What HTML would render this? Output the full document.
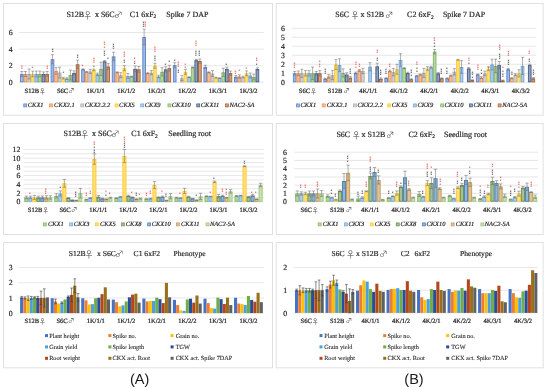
<!DOCTYPE html>
<html lang="en"><head><meta charset="utf-8"><title>Figure: CKX expression and phenotype, crosses C1 (A) and C2 (B)</title>
<style>html,body{margin:0;padding:0;background:#fff}body{width:550px;height:389px;overflow:hidden}svg{display:block}svg text{font-family:"Liberation Serif", "DejaVu Serif", serif;white-space:pre;text-rendering:geometricPrecision}.sans{font-family:"Liberation Sans", "DejaVu Sans", sans-serif}svg text .g{font-family:"Noto Serif CJK SC","DejaVu Sans",sans-serif;stroke:#444;stroke-width:.1px;fill:#444}.b{stroke:#262626;stroke-width:.22px}.t{stroke:#262626;stroke-width:.18px}.l{stroke:#262626;stroke-width:.08px}</style></head><body>
<svg width="550" height="389" viewBox="0 0 550 389">
<rect width="550" height="389" fill="#FFFFFF"/>
<g>
<rect x="3.5" y="3.5" width="269" height="111.7" fill="#FFFFFF" stroke="#E0E0E0" stroke-width="1"/>
<line x1="19.2" y1="82.3" x2="263.7" y2="82.3" stroke="#DCDCDC" stroke-width="0.7"/>
<line x1="19.2" y1="65.7" x2="263.7" y2="65.7" stroke="#DCDCDC" stroke-width="0.7"/>
<line x1="19.2" y1="49.1" x2="263.7" y2="49.1" stroke="#DCDCDC" stroke-width="0.7"/>
<line x1="19.2" y1="32.5" x2="263.7" y2="32.5" stroke="#DCDCDC" stroke-width="0.7"/>
<text class="t" x="12.7" y="84.95" text-anchor="end" font-size="7.8" fill="#262626">0</text>
<text class="t" x="12.7" y="68.35" text-anchor="end" font-size="7.8" fill="#262626">2</text>
<text class="t" x="12.7" y="51.75" text-anchor="end" font-size="7.8" fill="#262626">4</text>
<text class="t" x="12.7" y="35.15" text-anchor="end" font-size="7.8" fill="#262626">6</text>
<rect x="20.55" y="74.45" width="2.7" height="7.4" fill="#A2B8E2" stroke="#5A83CB" stroke-width="0.9"/>
<rect x="24.14" y="74.45" width="2.7" height="7.4" fill="#F6BE98" stroke="#EF8D4A" stroke-width="0.9"/>
<rect x="27.74" y="74.45" width="2.7" height="7.4" fill="#D2D2D2" stroke="#B0B0B0" stroke-width="0.9"/>
<rect x="31.34" y="74.45" width="2.7" height="7.4" fill="#FFE080" stroke="#FFC81F" stroke-width="0.9"/>
<rect x="34.93" y="74.45" width="2.7" height="7.4" fill="#ADCDEA" stroke="#6FA7DA" stroke-width="0.9"/>
<rect x="38.53" y="74.45" width="2.7" height="7.4" fill="#B8D6A3" stroke="#81B75D" stroke-width="0.9"/>
<rect x="42.12" y="74.45" width="2.7" height="7.4" fill="#92A2BC" stroke="#405A88" stroke-width="0.9"/>
<rect x="45.72" y="74.45" width="2.7" height="7.4" fill="#CEA486" stroke="#AA5E2B" stroke-width="0.9"/>
<rect x="51.11" y="59.68" width="2.7" height="22.17" fill="#A2B8E2" stroke="#5A83CB" stroke-width="0.9"/>
<rect x="54.71" y="71.38" width="2.7" height="10.47" fill="#F6BE98" stroke="#EF8D4A" stroke-width="0.9"/>
<rect x="58.3" y="73.04" width="2.7" height="8.81" fill="#D2D2D2" stroke="#B0B0B0" stroke-width="0.9"/>
<rect x="61.9" y="78.6" width="2.7" height="3.25" fill="#FFE080" stroke="#FFC81F" stroke-width="0.9"/>
<rect x="65.49" y="79.02" width="2.7" height="2.84" fill="#ADCDEA" stroke="#6FA7DA" stroke-width="0.9"/>
<rect x="69.09" y="75.53" width="2.7" height="6.32" fill="#B8D6A3" stroke="#81B75D" stroke-width="0.9"/>
<rect x="72.68" y="73.37" width="2.7" height="8.48" fill="#92A2BC" stroke="#405A88" stroke-width="0.9"/>
<rect x="76.28" y="64.74" width="2.7" height="17.11" fill="#CEA486" stroke="#AA5E2B" stroke-width="0.9"/>
<rect x="81.67" y="69.8" width="2.7" height="12.05" fill="#A2B8E2" stroke="#5A83CB" stroke-width="0.9"/>
<rect x="85.27" y="72.29" width="2.7" height="9.56" fill="#F6BE98" stroke="#EF8D4A" stroke-width="0.9"/>
<rect x="88.87" y="71.96" width="2.7" height="9.89" fill="#D2D2D2" stroke="#B0B0B0" stroke-width="0.9"/>
<rect x="92.46" y="70.3" width="2.7" height="11.55" fill="#FFE080" stroke="#FFC81F" stroke-width="0.9"/>
<rect x="96.06" y="74.78" width="2.7" height="7.07" fill="#ADCDEA" stroke="#6FA7DA" stroke-width="0.9"/>
<rect x="99.65" y="69.3" width="2.7" height="12.55" fill="#B8D6A3" stroke="#81B75D" stroke-width="0.9"/>
<rect x="103.25" y="61.83" width="2.7" height="20.02" fill="#92A2BC" stroke="#405A88" stroke-width="0.9"/>
<rect x="106.84" y="66.98" width="2.7" height="14.87" fill="#CEA486" stroke="#AA5E2B" stroke-width="0.9"/>
<rect x="112.24" y="56.85" width="2.7" height="25" fill="#A2B8E2" stroke="#5A83CB" stroke-width="0.9"/>
<rect x="115.83" y="72.79" width="2.7" height="9.06" fill="#F6BE98" stroke="#EF8D4A" stroke-width="0.9"/>
<rect x="119.43" y="75.61" width="2.7" height="6.24" fill="#D2D2D2" stroke="#B0B0B0" stroke-width="0.9"/>
<rect x="123.02" y="68.64" width="2.7" height="13.21" fill="#FFE080" stroke="#FFC81F" stroke-width="0.9"/>
<rect x="126.62" y="76.44" width="2.7" height="5.41" fill="#ADCDEA" stroke="#6FA7DA" stroke-width="0.9"/>
<rect x="130.21" y="76.94" width="2.7" height="4.91" fill="#B8D6A3" stroke="#81B75D" stroke-width="0.9"/>
<rect x="133.81" y="69.3" width="2.7" height="12.55" fill="#92A2BC" stroke="#405A88" stroke-width="0.9"/>
<rect x="137.41" y="69.8" width="2.7" height="12.05" fill="#CEA486" stroke="#AA5E2B" stroke-width="0.9"/>
<rect x="142.8" y="37.43" width="2.7" height="44.42" fill="#A2B8E2" stroke="#5A83CB" stroke-width="0.9"/>
<rect x="146.39" y="73.62" width="2.7" height="8.23" fill="#F6BE98" stroke="#EF8D4A" stroke-width="0.9"/>
<rect x="149.99" y="73.12" width="2.7" height="8.73" fill="#D2D2D2" stroke="#B0B0B0" stroke-width="0.9"/>
<rect x="153.59" y="66.15" width="2.7" height="15.7" fill="#FFE080" stroke="#FFC81F" stroke-width="0.9"/>
<rect x="157.18" y="76.94" width="2.7" height="4.91" fill="#ADCDEA" stroke="#6FA7DA" stroke-width="0.9"/>
<rect x="160.78" y="72.29" width="2.7" height="9.56" fill="#B8D6A3" stroke="#81B75D" stroke-width="0.9"/>
<rect x="164.37" y="69.8" width="2.7" height="12.05" fill="#92A2BC" stroke="#405A88" stroke-width="0.9"/>
<rect x="167.97" y="68.64" width="2.7" height="13.21" fill="#CEA486" stroke="#AA5E2B" stroke-width="0.9"/>
<rect x="173.36" y="65.65" width="2.7" height="16.2" fill="#A2B8E2" stroke="#5A83CB" stroke-width="0.9"/>
<rect x="180.55" y="78.6" width="2.7" height="3.25" fill="#D2D2D2" stroke="#B0B0B0" stroke-width="0.9"/>
<rect x="184.15" y="72.29" width="2.7" height="9.56" fill="#FFE080" stroke="#FFC81F" stroke-width="0.9"/>
<rect x="187.74" y="77.6" width="2.7" height="4.25" fill="#ADCDEA" stroke="#6FA7DA" stroke-width="0.9"/>
<rect x="191.34" y="67.81" width="2.7" height="14.04" fill="#B8D6A3" stroke="#81B75D" stroke-width="0.9"/>
<rect x="194.93" y="60.67" width="2.7" height="21.18" fill="#92A2BC" stroke="#405A88" stroke-width="0.9"/>
<rect x="198.53" y="61.5" width="2.7" height="20.35" fill="#CEA486" stroke="#AA5E2B" stroke-width="0.9"/>
<rect x="203.92" y="67.31" width="2.7" height="14.54" fill="#A2B8E2" stroke="#5A83CB" stroke-width="0.9"/>
<rect x="207.52" y="72.79" width="2.7" height="9.06" fill="#F6BE98" stroke="#EF8D4A" stroke-width="0.9"/>
<rect x="211.12" y="73.95" width="2.7" height="7.9" fill="#D2D2D2" stroke="#B0B0B0" stroke-width="0.9"/>
<rect x="214.71" y="78.1" width="2.7" height="3.75" fill="#FFE080" stroke="#FFC81F" stroke-width="0.9"/>
<rect x="218.31" y="78.6" width="2.7" height="3.25" fill="#ADCDEA" stroke="#6FA7DA" stroke-width="0.9"/>
<rect x="221.9" y="72.79" width="2.7" height="9.06" fill="#B8D6A3" stroke="#81B75D" stroke-width="0.9"/>
<rect x="225.5" y="69.3" width="2.7" height="12.55" fill="#92A2BC" stroke="#405A88" stroke-width="0.9"/>
<rect x="229.09" y="73.62" width="2.7" height="8.23" fill="#CEA486" stroke="#AA5E2B" stroke-width="0.9"/>
<rect x="234.49" y="77.27" width="2.7" height="4.58" fill="#A2B8E2" stroke="#5A83CB" stroke-width="0.9"/>
<rect x="238.08" y="76.94" width="2.7" height="4.91" fill="#F6BE98" stroke="#EF8D4A" stroke-width="0.9"/>
<rect x="241.68" y="77.44" width="2.7" height="4.41" fill="#D2D2D2" stroke="#B0B0B0" stroke-width="0.9"/>
<rect x="245.27" y="73.79" width="2.7" height="8.06" fill="#FFE080" stroke="#FFC81F" stroke-width="0.9"/>
<rect x="248.87" y="75.94" width="2.7" height="5.91" fill="#ADCDEA" stroke="#6FA7DA" stroke-width="0.9"/>
<rect x="252.46" y="77.44" width="2.7" height="4.41" fill="#B8D6A3" stroke="#81B75D" stroke-width="0.9"/>
<rect x="256.06" y="69.47" width="2.7" height="12.38" fill="#92A2BC" stroke="#405A88" stroke-width="0.9"/>
<path d="M21.9 71.51V76.49M20.39 71.51H23.41M20.39 76.49H23.41M25.49 71.51V76.49M23.98 71.51H27M23.98 76.49H27M29.09 69.02V78.98M27.58 69.02H30.6M27.58 78.98H30.6M32.68 71.09V76.91M31.17 71.09H34.19M31.17 76.91H34.19M36.28 71.09V76.91M34.77 71.09H37.79M34.77 76.91H37.79M39.87 71.09V76.91M38.36 71.09H41.38M38.36 76.91H41.38M43.47 71.92V76.08M41.96 71.92H44.98M41.96 76.08H44.98M47.07 71.51V76.49M45.56 71.51H48.58M45.56 76.49H48.58M52.46 54.66V63.79M50.95 54.66H53.97M50.95 63.79H53.97M56.05 67.61V74.25M54.54 67.61H57.56M54.54 74.25H57.56M59.65 67.19V77.98M58.14 67.19H61.16M58.14 77.98H61.16M63.25 77.32V78.98M61.74 77.32H64.76M61.74 78.98H64.76M66.84 77.73V79.39M65.33 77.73H68.35M65.33 79.39H68.35M70.44 70.1V80.06M68.93 70.1H71.95M68.93 80.06H71.95M74.03 70.85V75M72.52 70.85H75.54M72.52 75H75.54M77.63 60.14V68.44M76.12 60.14H79.14M76.12 68.44H79.14M83.02 68.94V69.77M81.51 68.94H84.53M81.51 69.77H84.53M86.62 71.43V72.26M85.11 71.43H88.13M85.11 72.26H88.13M90.21 69.44V73.58M88.7 69.44H91.72M88.7 73.58H91.72M93.81 69.02V70.68M92.3 69.02H95.32M92.3 70.68H95.32M97.4 73.09V75.58M95.89 73.09H98.91M95.89 75.58H98.91M101 62.21V75.49M99.49 62.21H102.51M99.49 75.49H102.51M104.6 60.55V62.21M103.09 60.55H106.11M103.09 62.21H106.11M108.19 63.62V69.44M106.68 63.62H109.7M106.68 69.44H109.7M113.58 52.25V60.55M112.07 52.25H115.09M112.07 60.55H115.09M117.18 71.92V72.75M115.67 71.92H118.69M115.67 72.75H118.69M120.78 72.67V77.65M119.27 72.67H122.29M119.27 77.65H122.29M124.37 65.7V70.68M122.86 65.7H125.88M122.86 70.68H125.88M127.97 73.5V78.48M126.46 73.5H129.48M126.46 78.48H129.48M131.56 76.08V76.91M130.05 76.08H133.07M130.05 76.91H133.07M135.16 65.95V71.76M133.65 65.95H136.67M133.65 71.76H136.67M138.75 66.45V72.26M137.24 66.45H140.26M137.24 72.26H140.26M144.15 29.18V44.78M142.64 29.18H145.66M142.64 44.78H145.66M147.74 72.75V73.58M146.23 72.75H149.25M146.23 73.58H149.25M151.34 70.6V74.75M149.83 70.6H152.85M149.83 74.75H152.85M154.93 63.21V68.19M153.42 63.21H156.44M153.42 68.19H156.44M158.53 75.24V77.73M157.02 75.24H160.04M157.02 77.73H160.04M162.12 67.69V75.99M160.61 67.69H163.63M160.61 75.99H163.63M165.72 66.86V71.84M164.21 66.86H167.23M164.21 71.84H167.23M169.32 65.28V71.09M167.81 65.28H170.83M167.81 71.09H170.83M174.71 62.71V67.69M173.2 62.71H176.22M173.2 67.69H176.22M181.9 75.66V80.64M180.39 75.66H183.41M180.39 80.64H183.41M185.5 69.35V74.33M183.99 69.35H187.01M183.99 74.33H187.01M189.09 76.74V77.57M187.58 76.74H190.6M187.58 77.57H190.6M192.69 66.94V67.77M191.18 66.94H194.2M191.18 67.77H194.2M196.28 59.39V61.05M194.77 59.39H197.79M194.77 61.05H197.79M199.88 58.98V63.13M198.37 58.98H201.39M198.37 63.13H201.39M205.27 65.2V68.52M203.76 65.2H206.78M203.76 68.52H206.78M208.87 71.92V72.75M207.36 71.92H210.38M207.36 72.75H210.38M212.46 70.6V76.41M210.95 70.6H213.97M210.95 76.41H213.97M216.06 77.24V78.07M214.55 77.24H217.57M214.55 78.07H217.57M219.65 77.73V78.56M218.14 77.73H221.16M218.14 78.56H221.16M223.25 68.19V76.49M221.74 68.19H224.76M221.74 76.49H224.76M226.85 67.19V70.51M225.34 67.19H228.36M225.34 70.51H228.36M230.44 71.09V75.24M228.93 71.09H231.95M228.93 75.24H231.95M235.83 75.58V78.07M234.32 75.58H237.34M234.32 78.07H237.34M239.43 74.83V78.15M237.92 74.83H240.94M237.92 78.15H240.94M243.03 76.16V77.82M241.52 76.16H244.54M241.52 77.82H244.54M246.62 70.85V75.83M245.11 70.85H248.13M245.11 75.83H248.13M250.22 73V77.98M248.71 73H251.73M248.71 77.98H251.73M253.81 74.08V79.89M252.3 74.08H255.32M252.3 79.89H255.32M257.41 67.77V70.27M255.9 67.77H258.92M255.9 70.27H258.92" fill="none" stroke="#6E6E6E" stroke-width="0.55"/>
<text x="22" y="68.24" text-anchor="middle" font-size="3.8" font-weight="bold" fill="#E8261C">*</text>
<text x="22" y="70.34" text-anchor="middle" font-size="3.8" font-weight="bold" fill="#E8261C">*</text>
<text x="32.5" y="69.09" text-anchor="middle" font-size="3.8" font-weight="bold" fill="#E8261C">*</text>
<text x="47.2" y="68.24" text-anchor="middle" font-size="3.8" font-weight="bold" fill="#E8261C">*</text>
<text x="47.2" y="70.34" text-anchor="middle" font-size="3.8" font-weight="bold" fill="#E8261C">*</text>
<text x="52.6" y="51.19" text-anchor="middle" font-size="3.8" font-weight="bold" fill="#1A1A1A">*</text>
<text x="52.6" y="53.29" text-anchor="middle" font-size="3.8" font-weight="bold" fill="#1A1A1A">*</text>
<text x="63.4" y="73.59" text-anchor="middle" font-size="3.8" font-weight="bold" fill="#1A1A1A">*</text>
<text x="77.6" y="56.59" text-anchor="middle" font-size="3.8" font-weight="bold" fill="#1A1A1A">*</text>
<text x="77.6" y="58.69" text-anchor="middle" font-size="3.8" font-weight="bold" fill="#1A1A1A">*</text>
<text x="82.5" y="67.39" text-anchor="middle" font-size="3.8" font-weight="bold" fill="#E8261C">*</text>
<text x="93.9" y="60.19" text-anchor="middle" font-size="3.8" font-weight="bold" fill="#E8261C">*</text>
<text x="93.9" y="62.29" text-anchor="middle" font-size="3.8" font-weight="bold" fill="#E8261C">*</text>
<text x="93.9" y="64.39" text-anchor="middle" font-size="3.8" font-weight="bold" fill="#E8261C">*</text>
<text x="93.9" y="67.79" text-anchor="middle" font-size="3.8" font-weight="bold" fill="#1A1A1A">*</text>
<text x="104.4" y="44.39" text-anchor="middle" font-size="3.8" font-weight="bold" fill="#E8261C">*</text>
<text x="104.4" y="46.49" text-anchor="middle" font-size="3.8" font-weight="bold" fill="#E8261C">*</text>
<text x="104.4" y="48.59" text-anchor="middle" font-size="3.8" font-weight="bold" fill="#E8261C">*</text>
<text x="104.4" y="53.29" text-anchor="middle" font-size="3.8" font-weight="bold" fill="#1A1A1A">*</text>
<text x="104.4" y="55.39" text-anchor="middle" font-size="3.8" font-weight="bold" fill="#1A1A1A">*</text>
<text x="104.4" y="57.49" text-anchor="middle" font-size="3.8" font-weight="bold" fill="#1A1A1A">*</text>
<text x="107.9" y="60.19" text-anchor="middle" font-size="3.8" font-weight="bold" fill="#1A1A1A">*</text>
<text x="113.4" y="45.59" text-anchor="middle" font-size="3.8" font-weight="bold" fill="#1A1A1A">*</text>
<text x="113.4" y="47.69" text-anchor="middle" font-size="3.8" font-weight="bold" fill="#1A1A1A">*</text>
<text x="113.4" y="49.79" text-anchor="middle" font-size="3.8" font-weight="bold" fill="#1A1A1A">*</text>
<text x="124.3" y="53.79" text-anchor="middle" font-size="3.8" font-weight="bold" fill="#E8261C">*</text>
<text x="124.3" y="55.89" text-anchor="middle" font-size="3.8" font-weight="bold" fill="#E8261C">*</text>
<text x="124.3" y="57.99" text-anchor="middle" font-size="3.8" font-weight="bold" fill="#E8261C">*</text>
<text x="124.3" y="61.74" text-anchor="middle" font-size="3.8" font-weight="bold" fill="#1A1A1A">*</text>
<text x="124.3" y="63.84" text-anchor="middle" font-size="3.8" font-weight="bold" fill="#1A1A1A">*</text>
<text x="134.8" y="60.44" text-anchor="middle" font-size="3.8" font-weight="bold" fill="#E8261C">*</text>
<text x="134.8" y="62.54" text-anchor="middle" font-size="3.8" font-weight="bold" fill="#E8261C">*</text>
<text x="134.8" y="65.19" text-anchor="middle" font-size="3.8" font-weight="bold" fill="#1A1A1A">*</text>
<text x="143.4" y="24.09" text-anchor="middle" font-size="3.8" font-weight="bold" fill="#1A1A1A">*</text>
<text x="143.4" y="26.19" text-anchor="middle" font-size="3.8" font-weight="bold" fill="#1A1A1A">*</text>
<text x="143.4" y="28.29" text-anchor="middle" font-size="3.8" font-weight="bold" fill="#1A1A1A">*</text>
<text x="145.3" y="24.09" text-anchor="middle" font-size="3.8" font-weight="bold" fill="#E8261C">*</text>
<text x="145.3" y="26.19" text-anchor="middle" font-size="3.8" font-weight="bold" fill="#E8261C">*</text>
<text x="145.3" y="28.29" text-anchor="middle" font-size="3.8" font-weight="bold" fill="#E8261C">*</text>
<text x="155" y="48.59" text-anchor="middle" font-size="3.8" font-weight="bold" fill="#E8261C">*</text>
<text x="155" y="50.69" text-anchor="middle" font-size="3.8" font-weight="bold" fill="#E8261C">*</text>
<text x="155" y="52.79" text-anchor="middle" font-size="3.8" font-weight="bold" fill="#E8261C">*</text>
<text x="155" y="57.59" text-anchor="middle" font-size="3.8" font-weight="bold" fill="#1A1A1A">*</text>
<text x="155" y="59.69" text-anchor="middle" font-size="3.8" font-weight="bold" fill="#1A1A1A">*</text>
<text x="155" y="61.79" text-anchor="middle" font-size="3.8" font-weight="bold" fill="#1A1A1A">*</text>
<text x="165.4" y="65.59" text-anchor="middle" font-size="3.8" font-weight="bold" fill="#1A1A1A">*</text>
<text x="169.2" y="63.19" text-anchor="middle" font-size="3.8" font-weight="bold" fill="#1A1A1A">*</text>
<text x="174.6" y="61.79" text-anchor="middle" font-size="3.8" font-weight="bold" fill="#1A1A1A">*</text>
<text x="178.1" y="63.79" text-anchor="middle" font-size="3.8" font-weight="bold" fill="#E8261C">*</text>
<text x="178.1" y="65.89" text-anchor="middle" font-size="3.8" font-weight="bold" fill="#E8261C">*</text>
<text x="178.1" y="67.99" text-anchor="middle" font-size="3.8" font-weight="bold" fill="#E8261C">*</text>
<text x="178.1" y="72.34" text-anchor="middle" font-size="3.8" font-weight="bold" fill="#1A1A1A">*</text>
<text x="178.1" y="74.44" text-anchor="middle" font-size="3.8" font-weight="bold" fill="#1A1A1A">*</text>
<text x="185.1" y="66.49" text-anchor="middle" font-size="3.8" font-weight="bold" fill="#E8261C">*</text>
<text x="185.1" y="68.59" text-anchor="middle" font-size="3.8" font-weight="bold" fill="#E8261C">*</text>
<text x="196" y="43.09" text-anchor="middle" font-size="3.8" font-weight="bold" fill="#E8261C">*</text>
<text x="196" y="45.19" text-anchor="middle" font-size="3.8" font-weight="bold" fill="#E8261C">*</text>
<text x="196" y="47.29" text-anchor="middle" font-size="3.8" font-weight="bold" fill="#E8261C">*</text>
<text x="196" y="52.59" text-anchor="middle" font-size="3.8" font-weight="bold" fill="#1A1A1A">*</text>
<text x="196" y="54.69" text-anchor="middle" font-size="3.8" font-weight="bold" fill="#1A1A1A">*</text>
<text x="196" y="56.79" text-anchor="middle" font-size="3.8" font-weight="bold" fill="#1A1A1A">*</text>
<text x="199.3" y="53.09" text-anchor="middle" font-size="3.8" font-weight="bold" fill="#1A1A1A">*</text>
<text x="199.3" y="55.19" text-anchor="middle" font-size="3.8" font-weight="bold" fill="#1A1A1A">*</text>
<text x="199.3" y="57.29" text-anchor="middle" font-size="3.8" font-weight="bold" fill="#1A1A1A">*</text>
<text x="226.2" y="66.09" text-anchor="middle" font-size="3.8" font-weight="bold" fill="#1A1A1A">*</text>
<text x="235.4" y="73.04" text-anchor="middle" font-size="3.8" font-weight="bold" fill="#E8261C">*</text>
<text x="235.4" y="75.14" text-anchor="middle" font-size="3.8" font-weight="bold" fill="#E8261C">*</text>
<text x="239.3" y="72.39" text-anchor="middle" font-size="3.8" font-weight="bold" fill="#E8261C">*</text>
<text x="246.3" y="69.89" text-anchor="middle" font-size="3.8" font-weight="bold" fill="#E8261C">*</text>
<text x="256.8" y="59.74" text-anchor="middle" font-size="3.8" font-weight="bold" fill="#E8261C">*</text>
<text x="256.8" y="61.84" text-anchor="middle" font-size="3.8" font-weight="bold" fill="#E8261C">*</text>
<text x="256.8" y="65.59" text-anchor="middle" font-size="3.8" font-weight="bold" fill="#1A1A1A">*</text>
<text class="b" x="24.6" y="92.7" text-anchor="start" font-size="6.5" fill="#262626">S12B<tspan class="g" font-size="6.8" dx="-0.1" baseline-shift="-0.8">♀</tspan></text>
<text class="b" x="56.9" y="92.7" text-anchor="start" font-size="6.5" fill="#262626">S6C<tspan class="g" font-size="6.4" dx="0.2" baseline-shift="0.5">♂</tspan></text>
<text class="b" x="95.61" y="92.7" text-anchor="middle" font-size="6.5" fill="#262626">1K/1/1</text>
<text class="b" x="126.17" y="92.7" text-anchor="middle" font-size="6.5" fill="#262626">1K/1/2</text>
<text class="b" x="156.73" y="92.7" text-anchor="middle" font-size="6.5" fill="#262626">1K/2/1</text>
<text class="b" x="187.29" y="92.7" text-anchor="middle" font-size="6.5" fill="#262626">1K/2/2</text>
<text class="b" x="217.86" y="92.7" text-anchor="middle" font-size="6.5" fill="#262626">1K/3/1</text>
<text class="b" x="248.42" y="92.7" text-anchor="middle" font-size="6.5" fill="#262626">1K/3/2</text>
<text class="t" x="66.4" y="16.7" font-size="8" fill="#1F1F1F">S12B<tspan class="g" font-size="9.4" dx="-1.3" baseline-shift="-1.6">♀</tspan></text>
<text class="t" x="94.9" y="16.7" font-size="8" fill="#1F1F1F">x S6C<tspan class="g" font-size="8.7" dx="-0.7" baseline-shift="-0.8">♂</tspan></text>
<text class="t" x="129.8" y="16.7" font-size="8" fill="#1F1F1F">C1 6xF<tspan dy="1.6" font-size="5.4">2</tspan></text>
<text class="t" x="166.2" y="16.7" font-size="8" fill="#1F1F1F">Spike 7 DAP</text>
<rect x="23.75" y="103.9" width="3" height="3" fill="#A2B8E2" stroke="#5A83CB" stroke-width="0.7"/>
<text class="t" x="27.8" y="107.45" font-size="6.45" font-style="italic" fill="#262626">CKX1</text>
<rect x="49.55" y="103.9" width="3" height="3" fill="#F6BE98" stroke="#EF8D4A" stroke-width="0.7"/>
<text class="t" x="54.1" y="107.45" font-size="6.45" font-style="italic" fill="#262626">CKX2.1</text>
<rect x="80.75" y="103.9" width="3" height="3" fill="#D2D2D2" stroke="#B0B0B0" stroke-width="0.7"/>
<text class="t" x="84.8" y="107.45" font-size="6.45" font-style="italic" fill="#262626">CKX2.2.2</text>
<rect x="115.05" y="103.9" width="3" height="3" fill="#FFE080" stroke="#FFC81F" stroke-width="0.7"/>
<text class="t" x="119.1" y="107.45" font-size="6.45" font-style="italic" fill="#262626">CKX5</text>
<rect x="140.75" y="103.9" width="3" height="3" fill="#ADCDEA" stroke="#6FA7DA" stroke-width="0.7"/>
<text class="t" x="144.8" y="107.45" font-size="6.45" font-style="italic" fill="#262626">CKX9</text>
<rect x="167.95" y="103.9" width="3" height="3" fill="#B8D6A3" stroke="#81B75D" stroke-width="0.7"/>
<text class="t" x="171.8" y="107.45" font-size="6.45" font-style="italic" fill="#262626">CKX10</text>
<rect x="196.75" y="103.9" width="3" height="3" fill="#92A2BC" stroke="#405A88" stroke-width="0.7"/>
<text class="t" x="200.8" y="107.45" font-size="6.45" font-style="italic" fill="#262626">CKX11</text>
<rect x="225.45" y="103.9" width="3" height="3" fill="#CEA486" stroke="#AA5E2B" stroke-width="0.7"/>
<text class="t" x="229.5" y="107.45" font-size="6.45" font-style="italic" fill="#262626">NAC2-5A</text>
</g>
<g>
<rect x="3.5" y="123.5" width="269" height="111" fill="#FFFFFF" stroke="#E0E0E0" stroke-width="1"/>
<line x1="23.6" y1="201.8" x2="263.9" y2="201.8" stroke="#DCDCDC" stroke-width="0.7"/>
<line x1="23.6" y1="197.44" x2="263.9" y2="197.44" stroke="#DCDCDC" stroke-width="0.7"/>
<line x1="23.6" y1="193.07" x2="263.9" y2="193.07" stroke="#DCDCDC" stroke-width="0.7"/>
<line x1="23.6" y1="188.71" x2="263.9" y2="188.71" stroke="#DCDCDC" stroke-width="0.7"/>
<line x1="23.6" y1="184.34" x2="263.9" y2="184.34" stroke="#DCDCDC" stroke-width="0.7"/>
<line x1="23.6" y1="179.98" x2="263.9" y2="179.98" stroke="#DCDCDC" stroke-width="0.7"/>
<line x1="23.6" y1="175.62" x2="263.9" y2="175.62" stroke="#DCDCDC" stroke-width="0.7"/>
<line x1="23.6" y1="171.25" x2="263.9" y2="171.25" stroke="#DCDCDC" stroke-width="0.7"/>
<line x1="23.6" y1="166.89" x2="263.9" y2="166.89" stroke="#DCDCDC" stroke-width="0.7"/>
<line x1="23.6" y1="162.52" x2="263.9" y2="162.52" stroke="#DCDCDC" stroke-width="0.7"/>
<line x1="23.6" y1="158.16" x2="263.9" y2="158.16" stroke="#DCDCDC" stroke-width="0.7"/>
<line x1="23.6" y1="153.8" x2="263.9" y2="153.8" stroke="#DCDCDC" stroke-width="0.7"/>
<line x1="23.6" y1="149.43" x2="263.9" y2="149.43" stroke="#DCDCDC" stroke-width="0.7"/>
<text class="t" x="20.4" y="204.45" text-anchor="end" font-size="7.8" fill="#262626">0</text>
<text class="t" x="20.4" y="195.72" text-anchor="end" font-size="7.8" fill="#262626">2</text>
<text class="t" x="20.4" y="186.99" text-anchor="end" font-size="7.8" fill="#262626">4</text>
<text class="t" x="20.4" y="178.27" text-anchor="end" font-size="7.8" fill="#262626">6</text>
<text class="t" x="20.4" y="169.54" text-anchor="end" font-size="7.8" fill="#262626">8</text>
<text class="t" x="20.4" y="160.81" text-anchor="end" font-size="7.8" fill="#262626">10</text>
<text class="t" x="20.4" y="152.08" text-anchor="end" font-size="7.8" fill="#262626">12</text>
<rect x="24.75" y="197.89" width="3.1" height="3.46" fill="#B8D6A3" stroke="#81B75D" stroke-width="0.9"/>
<rect x="28.76" y="197.89" width="3.1" height="3.46" fill="#ADCDEA" stroke="#6FA7DA" stroke-width="0.9"/>
<rect x="32.76" y="197.89" width="3.1" height="3.46" fill="#FFE080" stroke="#FFC81F" stroke-width="0.9"/>
<rect x="36.77" y="197.89" width="3.1" height="3.46" fill="#A7BF9A" stroke="#648E4D" stroke-width="0.9"/>
<rect x="40.77" y="197.89" width="3.1" height="3.46" fill="#96B5D2" stroke="#477DB1" stroke-width="0.9"/>
<rect x="44.78" y="197.89" width="3.1" height="3.46" fill="#DCC59C" stroke="#C19952" stroke-width="0.9"/>
<rect x="48.78" y="197.89" width="3.1" height="3.46" fill="#C6E0B4" stroke="#9AC87A" stroke-width="0.9"/>
<rect x="54.79" y="196.31" width="3.1" height="5.04" fill="#B8D6A3" stroke="#81B75D" stroke-width="0.9"/>
<rect x="58.79" y="193.96" width="3.1" height="7.39" fill="#ADCDEA" stroke="#6FA7DA" stroke-width="0.9"/>
<rect x="62.8" y="183.7" width="3.1" height="17.65" fill="#FFE080" stroke="#FFC81F" stroke-width="0.9"/>
<rect x="66.8" y="198.45" width="3.1" height="2.9" fill="#A7BF9A" stroke="#648E4D" stroke-width="0.9"/>
<rect x="70.81" y="200.5" width="3.1" height="0.85" fill="#96B5D2" stroke="#477DB1" stroke-width="0.9"/>
<rect x="74.81" y="200.81" width="3.1" height="0.54" fill="#DCC59C" stroke="#C19952" stroke-width="0.9"/>
<rect x="78.82" y="193.61" width="3.1" height="7.74" fill="#C6E0B4" stroke="#9AC87A" stroke-width="0.9"/>
<rect x="84.83" y="199.89" width="3.1" height="1.46" fill="#B8D6A3" stroke="#81B75D" stroke-width="0.9"/>
<rect x="88.83" y="198.45" width="3.1" height="2.9" fill="#ADCDEA" stroke="#6FA7DA" stroke-width="0.9"/>
<rect x="92.84" y="159.48" width="3.1" height="41.87" fill="#FFE080" stroke="#FFC81F" stroke-width="0.9"/>
<rect x="96.84" y="197.23" width="3.1" height="4.12" fill="#A7BF9A" stroke="#648E4D" stroke-width="0.9"/>
<rect x="100.85" y="199.02" width="3.1" height="2.33" fill="#96B5D2" stroke="#477DB1" stroke-width="0.9"/>
<rect x="104.85" y="199.54" width="3.1" height="1.81" fill="#DCC59C" stroke="#C19952" stroke-width="0.9"/>
<rect x="108.86" y="198.1" width="3.1" height="3.25" fill="#C6E0B4" stroke="#9AC87A" stroke-width="0.9"/>
<rect x="114.86" y="198.45" width="3.1" height="2.9" fill="#B8D6A3" stroke="#81B75D" stroke-width="0.9"/>
<rect x="118.87" y="197.23" width="3.1" height="4.12" fill="#ADCDEA" stroke="#6FA7DA" stroke-width="0.9"/>
<rect x="122.87" y="156.43" width="3.1" height="44.92" fill="#FFE080" stroke="#FFC81F" stroke-width="0.9"/>
<rect x="126.88" y="196.31" width="3.1" height="5.04" fill="#A7BF9A" stroke="#648E4D" stroke-width="0.9"/>
<rect x="130.88" y="197.76" width="3.1" height="3.59" fill="#96B5D2" stroke="#477DB1" stroke-width="0.9"/>
<rect x="134.89" y="199.54" width="3.1" height="1.81" fill="#DCC59C" stroke="#C19952" stroke-width="0.9"/>
<rect x="138.89" y="199.02" width="3.1" height="2.33" fill="#C6E0B4" stroke="#9AC87A" stroke-width="0.9"/>
<rect x="144.9" y="199.37" width="3.1" height="1.98" fill="#B8D6A3" stroke="#81B75D" stroke-width="0.9"/>
<rect x="148.91" y="199.02" width="3.1" height="2.33" fill="#ADCDEA" stroke="#6FA7DA" stroke-width="0.9"/>
<rect x="152.91" y="185.49" width="3.1" height="15.86" fill="#FFE080" stroke="#FFC81F" stroke-width="0.9"/>
<rect x="156.92" y="197.76" width="3.1" height="3.59" fill="#A7BF9A" stroke="#648E4D" stroke-width="0.9"/>
<rect x="160.92" y="197.23" width="3.1" height="4.12" fill="#96B5D2" stroke="#477DB1" stroke-width="0.9"/>
<rect x="164.93" y="200.81" width="3.1" height="0.54" fill="#DCC59C" stroke="#C19952" stroke-width="0.9"/>
<rect x="168.93" y="196.66" width="3.1" height="4.69" fill="#C6E0B4" stroke="#9AC87A" stroke-width="0.9"/>
<rect x="174.94" y="198.1" width="3.1" height="3.25" fill="#B8D6A3" stroke="#81B75D" stroke-width="0.9"/>
<rect x="178.94" y="198.45" width="3.1" height="2.9" fill="#ADCDEA" stroke="#6FA7DA" stroke-width="0.9"/>
<rect x="182.95" y="191.34" width="3.1" height="10.01" fill="#FFE080" stroke="#FFC81F" stroke-width="0.9"/>
<rect x="186.95" y="197.23" width="3.1" height="4.12" fill="#A7BF9A" stroke="#648E4D" stroke-width="0.9"/>
<rect x="190.96" y="199.02" width="3.1" height="2.33" fill="#96B5D2" stroke="#477DB1" stroke-width="0.9"/>
<rect x="194.96" y="200.5" width="3.1" height="0.85" fill="#DCC59C" stroke="#C19952" stroke-width="0.9"/>
<rect x="198.97" y="196.84" width="3.1" height="4.51" fill="#C6E0B4" stroke="#9AC87A" stroke-width="0.9"/>
<rect x="204.98" y="196.66" width="3.1" height="4.69" fill="#B8D6A3" stroke="#81B75D" stroke-width="0.9"/>
<rect x="208.98" y="196.84" width="3.1" height="4.51" fill="#ADCDEA" stroke="#6FA7DA" stroke-width="0.9"/>
<rect x="212.99" y="182.26" width="3.1" height="19.09" fill="#FFE080" stroke="#FFC81F" stroke-width="0.9"/>
<rect x="216.99" y="196.66" width="3.1" height="4.69" fill="#A7BF9A" stroke="#648E4D" stroke-width="0.9"/>
<rect x="221" y="196.31" width="3.1" height="5.04" fill="#96B5D2" stroke="#477DB1" stroke-width="0.9"/>
<rect x="225" y="198.1" width="3.1" height="3.25" fill="#DCC59C" stroke="#C19952" stroke-width="0.9"/>
<rect x="229.01" y="191.78" width="3.1" height="9.57" fill="#C6E0B4" stroke="#9AC87A" stroke-width="0.9"/>
<rect x="235.01" y="196.31" width="3.1" height="5.04" fill="#B8D6A3" stroke="#81B75D" stroke-width="0.9"/>
<rect x="239.02" y="195.97" width="3.1" height="5.38" fill="#ADCDEA" stroke="#6FA7DA" stroke-width="0.9"/>
<rect x="243.02" y="166.64" width="3.1" height="34.71" fill="#FFE080" stroke="#FFC81F" stroke-width="0.9"/>
<rect x="247.03" y="197.23" width="3.1" height="4.12" fill="#A7BF9A" stroke="#648E4D" stroke-width="0.9"/>
<rect x="251.03" y="195.97" width="3.1" height="5.38" fill="#96B5D2" stroke="#477DB1" stroke-width="0.9"/>
<rect x="255.04" y="199.54" width="3.1" height="1.81" fill="#DCC59C" stroke="#C19952" stroke-width="0.9"/>
<rect x="259.04" y="185.49" width="3.1" height="15.86" fill="#C6E0B4" stroke="#9AC87A" stroke-width="0.9"/>
<path d="M26.3 196.13V198.75M24.62 196.13H27.99M24.62 198.75H27.99M30.31 196.13V198.75M28.63 196.13H31.99M28.63 198.75H31.99M34.31 195.47V199.4M32.63 195.47H36M32.63 199.4H36M38.32 196.13V198.75M36.64 196.13H40M36.64 198.75H40M42.32 195.91V198.96M40.64 195.91H44.01M40.64 198.96H44.01M46.33 195.69V199.18M44.65 195.69H48.01M44.65 199.18H48.01M50.33 195.69V199.18M48.65 195.69H52.02M48.65 199.18H52.02M56.34 193.68V198.05M54.66 193.68H58.02M54.66 198.05H58.02M60.35 190.89V196.13M58.66 190.89H62.03M58.66 196.13H62.03M64.35 179.33V187.18M62.67 179.33H66.03M62.67 187.18H66.03M68.36 197.57V198.44M66.67 197.57H70.04M66.67 198.44H70.04M72.36 199.84V200.27M70.68 199.84H74.04M70.68 200.27H74.04M76.37 200.14V200.58M74.68 200.14H78.05M74.68 200.58H78.05M80.37 188.36V197.96M78.69 188.36H82.05M78.69 197.96H82.05M86.38 199.23V199.66M84.7 199.23H88.06M84.7 199.66H88.06M90.38 197.57V198.44M88.7 197.57H92.07M88.7 198.44H92.07M94.39 153.8V164.27M92.71 153.8H96.07M92.71 164.27H96.07M98.39 195.47V198.09M96.71 195.47H100.08M96.71 198.09H100.08M102.4 198.13V199.01M100.72 198.13H104.08M100.72 199.01H104.08M106.4 198.88V199.31M104.72 198.88H108.09M104.72 199.31H108.09M110.41 197.22V198.09M108.73 197.22H112.09M108.73 198.09H112.09M116.42 197.79V198.22M114.73 197.79H118.1M114.73 198.22H118.1M120.42 196.34V197.22M118.74 196.34H122.1M118.74 197.22H122.1M124.43 149.43V162.52M122.74 149.43H126.11M122.74 162.52H126.11M128.43 195.21V196.52M126.75 195.21H130.11M126.75 196.52H130.11M132.44 196.87V197.74M130.75 196.87H134.12M130.75 197.74H134.12M136.44 198.88V199.31M134.76 198.88H138.12M134.76 199.31H138.12M140.45 198.13V199.01M138.76 198.13H142.13M138.76 199.01H142.13M146.45 198.7V199.14M144.77 198.7H148.14M144.77 199.14H148.14M150.46 198.13V199.01M148.78 198.13H152.14M148.78 199.01H152.14M154.46 181.55V188.53M152.78 181.55H156.15M152.78 188.53H156.15M158.47 196.87V197.74M156.79 196.87H160.15M156.79 197.74H160.15M162.47 196.13V197.44M160.79 196.13H164.16M160.79 197.44H164.16M166.48 200.14V200.58M164.8 200.14H168.16M164.8 200.58H168.16M170.48 193.6V198.83M168.8 193.6H172.17M168.8 198.83H172.17M176.49 197.22V198.09M174.81 197.22H178.17M174.81 198.09H178.17M180.5 197.79V198.22M178.81 197.79H182.18M178.81 198.22H182.18M184.5 188.27V193.51M182.82 188.27H186.18M182.82 193.51H186.18M188.51 196.34V197.22M186.82 196.34H190.19M186.82 197.22H190.19M192.51 198.35V198.79M190.83 198.35H194.19M190.83 198.79H194.19M196.52 199.84V200.27M194.83 199.84H198.2M194.83 200.27H198.2M200.52 193.33V199.44M198.84 193.33H202.2M198.84 199.44H202.2M206.53 195.78V196.65M204.85 195.78H208.21M204.85 196.65H208.21M210.53 196.17V196.61M208.85 196.17H212.22M208.85 196.61H212.22M214.54 181.16V182.47M212.86 181.16H216.22M212.86 182.47H216.22M218.54 194.47V197.96M216.86 194.47H220.23M216.86 197.96H220.23M222.55 195.21V196.52M220.87 195.21H224.23M220.87 196.52H224.23M226.55 197.44V197.87M224.87 197.44H228.24M224.87 197.87H228.24M230.56 189.58V193.07M228.88 189.58H232.24M228.88 193.07H232.24M236.57 195.43V196.3M234.88 195.43H238.25M234.88 196.3H238.25M240.57 195.3V195.73M238.89 195.3H242.25M238.89 195.73H242.25M244.58 165.75V166.63M242.89 165.75H246.26M242.89 166.63H246.26M248.58 196.34V197.22M246.9 196.34H250.26M246.9 197.22H250.26M252.59 194.64V196.39M250.9 194.64H254.27M250.9 196.39H254.27M256.59 198.88V199.31M254.91 198.88H258.27M254.91 199.31H258.27M260.6 183.3V186.79M258.91 183.3H262.28M258.91 186.79H262.28" fill="none" stroke="#6E6E6E" stroke-width="0.55"/>
<text x="30" y="194.99" text-anchor="middle" font-size="3.8" font-weight="bold" fill="#E8261C">*</text>
<text x="45.8" y="190.64" text-anchor="middle" font-size="3.8" font-weight="bold" fill="#E8261C">*</text>
<text x="45.8" y="192.74" text-anchor="middle" font-size="3.8" font-weight="bold" fill="#E8261C">*</text>
<text x="45.8" y="194.84" text-anchor="middle" font-size="3.8" font-weight="bold" fill="#E8261C">*</text>
<text x="60.2" y="189.29" text-anchor="middle" font-size="3.8" font-weight="bold" fill="#1A1A1A">*</text>
<text x="75.7" y="193.59" text-anchor="middle" font-size="3.8" font-weight="bold" fill="#1A1A1A">*</text>
<text x="75.7" y="195.69" text-anchor="middle" font-size="3.8" font-weight="bold" fill="#1A1A1A">*</text>
<text x="75.7" y="197.79" text-anchor="middle" font-size="3.8" font-weight="bold" fill="#1A1A1A">*</text>
<text x="86.3" y="195.04" text-anchor="middle" font-size="3.8" font-weight="bold" fill="#E8261C">*</text>
<text x="86.3" y="197.14" text-anchor="middle" font-size="3.8" font-weight="bold" fill="#E8261C">*</text>
<text x="90.3" y="193.14" text-anchor="middle" font-size="3.8" font-weight="bold" fill="#E8261C">*</text>
<text x="90.3" y="195.24" text-anchor="middle" font-size="3.8" font-weight="bold" fill="#E8261C">*</text>
<text x="94.3" y="143.94" text-anchor="middle" font-size="3.8" font-weight="bold" fill="#E8261C">*</text>
<text x="94.3" y="146.04" text-anchor="middle" font-size="3.8" font-weight="bold" fill="#E8261C">*</text>
<text x="94.3" y="149.44" text-anchor="middle" font-size="3.8" font-weight="bold" fill="#1A1A1A">*</text>
<text x="94.3" y="151.54" text-anchor="middle" font-size="3.8" font-weight="bold" fill="#1A1A1A">*</text>
<text x="94.3" y="153.64" text-anchor="middle" font-size="3.8" font-weight="bold" fill="#1A1A1A">*</text>
<text x="106" y="193.09" text-anchor="middle" font-size="3.8" font-weight="bold" fill="#E8261C">*</text>
<text x="106" y="196.69" text-anchor="middle" font-size="3.8" font-weight="bold" fill="#1A1A1A">*</text>
<text x="109.7" y="195.39" text-anchor="middle" font-size="3.8" font-weight="bold" fill="#E8261C">*</text>
<text x="124.4" y="138.89" text-anchor="middle" font-size="3.8" font-weight="bold" fill="#E8261C">*</text>
<text x="124.4" y="140.99" text-anchor="middle" font-size="3.8" font-weight="bold" fill="#E8261C">*</text>
<text x="124.4" y="143.09" text-anchor="middle" font-size="3.8" font-weight="bold" fill="#E8261C">*</text>
<text x="124.4" y="145.29" text-anchor="middle" font-size="3.8" font-weight="bold" fill="#1A1A1A">*</text>
<text x="124.4" y="147.39" text-anchor="middle" font-size="3.8" font-weight="bold" fill="#1A1A1A">*</text>
<text x="124.4" y="149.49" text-anchor="middle" font-size="3.8" font-weight="bold" fill="#1A1A1A">*</text>
<text x="131.7" y="193.59" text-anchor="middle" font-size="3.8" font-weight="bold" fill="#E8261C">*</text>
<text x="136.2" y="195.04" text-anchor="middle" font-size="3.8" font-weight="bold" fill="#1A1A1A">*</text>
<text x="136.2" y="197.14" text-anchor="middle" font-size="3.8" font-weight="bold" fill="#1A1A1A">*</text>
<text x="139.5" y="195.79" text-anchor="middle" font-size="3.8" font-weight="bold" fill="#E8261C">*</text>
<text x="146.4" y="195.04" text-anchor="middle" font-size="3.8" font-weight="bold" fill="#E8261C">*</text>
<text x="146.4" y="197.14" text-anchor="middle" font-size="3.8" font-weight="bold" fill="#E8261C">*</text>
<text x="150.3" y="193.14" text-anchor="middle" font-size="3.8" font-weight="bold" fill="#E8261C">*</text>
<text x="150.3" y="195.24" text-anchor="middle" font-size="3.8" font-weight="bold" fill="#E8261C">*</text>
<text x="162" y="193.09" text-anchor="middle" font-size="3.8" font-weight="bold" fill="#E8261C">*</text>
<text x="166" y="196.34" text-anchor="middle" font-size="3.8" font-weight="bold" fill="#1A1A1A">*</text>
<text x="166" y="198.44" text-anchor="middle" font-size="3.8" font-weight="bold" fill="#1A1A1A">*</text>
<text x="180" y="195.19" text-anchor="middle" font-size="3.8" font-weight="bold" fill="#E8261C">*</text>
<text x="196.2" y="197.19" text-anchor="middle" font-size="3.8" font-weight="bold" fill="#1A1A1A">*</text>
<text x="210.3" y="194.49" text-anchor="middle" font-size="3.8" font-weight="bold" fill="#E8261C">*</text>
<text x="214" y="179.59" text-anchor="middle" font-size="3.8" font-weight="bold" fill="#1A1A1A">*</text>
<text x="222.5" y="191.39" text-anchor="middle" font-size="3.8" font-weight="bold" fill="#E8261C">*</text>
<text x="222.5" y="193.49" text-anchor="middle" font-size="3.8" font-weight="bold" fill="#E8261C">*</text>
<text x="226.1" y="191.44" text-anchor="middle" font-size="3.8" font-weight="bold" fill="#E8261C">*</text>
<text x="226.1" y="193.54" text-anchor="middle" font-size="3.8" font-weight="bold" fill="#E8261C">*</text>
<text x="226.1" y="195.64" text-anchor="middle" font-size="3.8" font-weight="bold" fill="#E8261C">*</text>
<text x="244.4" y="162.59" text-anchor="middle" font-size="3.8" font-weight="bold" fill="#1A1A1A">*</text>
<text x="244.4" y="164.69" text-anchor="middle" font-size="3.8" font-weight="bold" fill="#1A1A1A">*</text>
<text x="251.8" y="194.49" text-anchor="middle" font-size="3.8" font-weight="bold" fill="#E8261C">*</text>
<text x="255.8" y="194.49" text-anchor="middle" font-size="3.8" font-weight="bold" fill="#E8261C">*</text>
<text class="b" x="27.8" y="211.7" text-anchor="start" font-size="6.5" fill="#262626">S12B<tspan class="g" font-size="6.8" dx="-0.1" baseline-shift="-0.8">♀</tspan></text>
<text class="b" x="59.5" y="211.7" text-anchor="start" font-size="6.5" fill="#262626">S6C<tspan class="g" font-size="6.4" dx="0.2" baseline-shift="0.5">♂</tspan></text>
<text class="b" x="98.29" y="211.7" text-anchor="middle" font-size="6.5" fill="#262626">1K/1/1</text>
<text class="b" x="128.33" y="211.7" text-anchor="middle" font-size="6.5" fill="#262626">1K/1/2</text>
<text class="b" x="158.37" y="211.7" text-anchor="middle" font-size="6.5" fill="#262626">1K/2/1</text>
<text class="b" x="188.41" y="211.7" text-anchor="middle" font-size="6.5" fill="#262626">1K/2/2</text>
<text class="b" x="218.44" y="211.7" text-anchor="middle" font-size="6.5" fill="#262626">1K/3/1</text>
<text class="b" x="248.48" y="211.7" text-anchor="middle" font-size="6.5" fill="#262626">1K/3/2</text>
<text class="t" x="63.5" y="136.3" font-size="8" fill="#1F1F1F">S12B<tspan class="g" font-size="9.4" dx="-1.3" baseline-shift="-1.6">♀</tspan></text>
<text class="t" x="92" y="136.3" font-size="8" fill="#1F1F1F">x S6C<tspan class="g" font-size="8.7" dx="-0.7" baseline-shift="-0.8">♂</tspan></text>
<text class="t" x="131.3" y="136.3" font-size="8" fill="#1F1F1F">C1 6xF<tspan dy="1.6" font-size="5.4">2</tspan></text>
<text class="t" x="168.2" y="136.3" font-size="8" fill="#1F1F1F">Seedling root</text>
<rect x="43.35" y="222.9" width="3" height="3" fill="#B8D6A3" stroke="#81B75D" stroke-width="0.7"/>
<text class="t" x="48" y="226.45" font-size="6.45" font-style="italic" fill="#262626">CKX1</text>
<rect x="69.65" y="222.9" width="3" height="3" fill="#ADCDEA" stroke="#6FA7DA" stroke-width="0.7"/>
<text class="t" x="73.7" y="226.45" font-size="6.45" font-style="italic" fill="#262626">CKX3</text>
<rect x="95.45" y="222.9" width="3" height="3" fill="#FFE080" stroke="#FFC81F" stroke-width="0.7"/>
<text class="t" x="100" y="226.45" font-size="6.45" font-style="italic" fill="#262626">CKX5</text>
<rect x="121.45" y="222.9" width="3" height="3" fill="#A7BF9A" stroke="#648E4D" stroke-width="0.7"/>
<text class="t" x="125.8" y="226.45" font-size="6.45" font-style="italic" fill="#262626">CKX8</text>
<rect x="147.65" y="222.9" width="3" height="3" fill="#96B5D2" stroke="#477DB1" stroke-width="0.7"/>
<text class="t" x="151.7" y="226.45" font-size="6.45" font-style="italic" fill="#262626">CKX10</text>
<rect x="176.35" y="222.9" width="3" height="3" fill="#DCC59C" stroke="#C19952" stroke-width="0.7"/>
<text class="t" x="180.9" y="226.45" font-size="6.45" font-style="italic" fill="#262626">CKX11</text>
<rect x="206.05" y="222.9" width="3" height="3" fill="#C6E0B4" stroke="#9AC87A" stroke-width="0.7"/>
<text class="t" x="209.9" y="226.45" font-size="6.45" font-style="italic" fill="#262626">NAC2-5A</text>
</g>
<g>
<rect x="3.5" y="242.5" width="269" height="125.3" fill="#FFFFFF" stroke="#E0E0E0" stroke-width="1"/>
<line x1="18.7" y1="313.1" x2="263.9" y2="313.1" stroke="#DCDCDC" stroke-width="0.7"/>
<line x1="18.7" y1="297.93" x2="263.9" y2="297.93" stroke="#DCDCDC" stroke-width="0.7"/>
<line x1="18.7" y1="282.76" x2="263.9" y2="282.76" stroke="#DCDCDC" stroke-width="0.7"/>
<line x1="18.7" y1="267.59" x2="263.9" y2="267.59" stroke="#DCDCDC" stroke-width="0.7"/>
<text class="t" x="12.7" y="315.75" text-anchor="end" font-size="7.8" fill="#262626">0</text>
<text class="t" x="12.7" y="300.58" text-anchor="end" font-size="7.8" fill="#262626">1</text>
<text class="t" x="12.7" y="285.41" text-anchor="end" font-size="7.8" fill="#262626">2</text>
<text class="t" x="12.7" y="270.24" text-anchor="end" font-size="7.8" fill="#262626">3</text>
<rect x="20.1" y="297.47" width="3.07" height="15.63" fill="#4472C4"/>
<rect x="23.32" y="297.93" width="3.07" height="15.17" fill="#ED7D31"/>
<rect x="26.54" y="298.23" width="3.07" height="14.87" fill="#FFC000"/>
<rect x="29.76" y="297.93" width="3.07" height="15.17" fill="#4A9FE0"/>
<rect x="32.97" y="297.47" width="3.07" height="15.63" fill="#70AD47"/>
<rect x="36.19" y="297.93" width="3.07" height="15.17" fill="#264E9A"/>
<rect x="39.41" y="297.93" width="3.07" height="15.17" fill="#B5461B"/>
<rect x="42.62" y="297.93" width="3.07" height="15.17" fill="#98701A"/>
<rect x="45.84" y="297.47" width="3.07" height="15.63" fill="#5F6165"/>
<rect x="50.67" y="298.23" width="3.07" height="14.87" fill="#4472C4"/>
<rect x="53.88" y="301.42" width="3.07" height="11.68" fill="#ED7D31"/>
<rect x="57.1" y="303.54" width="3.07" height="9.56" fill="#FFC000"/>
<rect x="60.32" y="302.63" width="3.07" height="10.47" fill="#4A9FE0"/>
<rect x="63.54" y="299.45" width="3.07" height="13.65" fill="#70AD47"/>
<rect x="66.75" y="296.72" width="3.07" height="16.38" fill="#264E9A"/>
<rect x="69.97" y="294.9" width="3.07" height="18.2" fill="#B5461B"/>
<rect x="73.19" y="285.64" width="3.07" height="27.46" fill="#98701A"/>
<rect x="76.4" y="297.32" width="3.07" height="15.78" fill="#5F6165"/>
<rect x="81.23" y="298.23" width="3.07" height="14.87" fill="#4472C4"/>
<rect x="84.45" y="300.36" width="3.07" height="12.74" fill="#ED7D31"/>
<rect x="87.66" y="304.45" width="3.07" height="8.65" fill="#FFC000"/>
<rect x="90.88" y="304.15" width="3.07" height="8.95" fill="#4A9FE0"/>
<rect x="94.1" y="298.23" width="3.07" height="14.87" fill="#70AD47"/>
<rect x="97.31" y="297.78" width="3.07" height="15.32" fill="#264E9A"/>
<rect x="100.53" y="294.14" width="3.07" height="18.96" fill="#B5461B"/>
<rect x="103.75" y="287.31" width="3.07" height="25.79" fill="#98701A"/>
<rect x="106.97" y="299.45" width="3.07" height="13.65" fill="#5F6165"/>
<rect x="111.79" y="299.6" width="3.07" height="13.5" fill="#4472C4"/>
<rect x="115.01" y="302.18" width="3.07" height="10.92" fill="#ED7D31"/>
<rect x="118.23" y="306.27" width="3.07" height="6.83" fill="#FFC000"/>
<rect x="121.44" y="305.36" width="3.07" height="7.74" fill="#4A9FE0"/>
<rect x="124.66" y="301.42" width="3.07" height="11.68" fill="#70AD47"/>
<rect x="127.88" y="297.32" width="3.07" height="15.78" fill="#264E9A"/>
<rect x="131.09" y="294.59" width="3.07" height="18.51" fill="#B5461B"/>
<rect x="134.31" y="293.68" width="3.07" height="19.42" fill="#98701A"/>
<rect x="137.53" y="302.63" width="3.07" height="10.47" fill="#5F6165"/>
<rect x="142.35" y="298.54" width="3.07" height="14.56" fill="#4472C4"/>
<rect x="145.57" y="301.42" width="3.07" height="11.68" fill="#ED7D31"/>
<rect x="148.79" y="300.96" width="3.07" height="12.14" fill="#FFC000"/>
<rect x="152.01" y="300.96" width="3.07" height="12.14" fill="#4A9FE0"/>
<rect x="155.22" y="297.63" width="3.07" height="15.47" fill="#70AD47"/>
<rect x="158.44" y="299.14" width="3.07" height="13.96" fill="#264E9A"/>
<rect x="161.66" y="303.09" width="3.07" height="10.01" fill="#B5461B"/>
<rect x="164.87" y="282.91" width="3.07" height="30.19" fill="#98701A"/>
<rect x="168.09" y="297.32" width="3.07" height="15.78" fill="#5F6165"/>
<rect x="172.92" y="299.9" width="3.07" height="13.2" fill="#4472C4"/>
<rect x="176.13" y="305.06" width="3.07" height="8.04" fill="#ED7D31"/>
<rect x="179.35" y="310.37" width="3.07" height="2.73" fill="#FFC000"/>
<rect x="182.57" y="310.82" width="3.07" height="2.28" fill="#4A9FE0"/>
<rect x="185.79" y="299.45" width="3.07" height="13.65" fill="#70AD47"/>
<rect x="189" y="298.69" width="3.07" height="14.41" fill="#264E9A"/>
<rect x="192.22" y="302.63" width="3.07" height="10.47" fill="#B5461B"/>
<rect x="195.44" y="295.5" width="3.07" height="17.6" fill="#98701A"/>
<rect x="198.65" y="303.54" width="3.07" height="9.56" fill="#5F6165"/>
<rect x="203.48" y="298.69" width="3.07" height="14.41" fill="#4472C4"/>
<rect x="206.7" y="303.09" width="3.07" height="10.01" fill="#ED7D31"/>
<rect x="209.91" y="308.09" width="3.07" height="5.01" fill="#FFC000"/>
<rect x="213.13" y="308.55" width="3.07" height="4.55" fill="#4A9FE0"/>
<rect x="216.35" y="297.63" width="3.07" height="15.47" fill="#70AD47"/>
<rect x="219.56" y="299.14" width="3.07" height="13.96" fill="#264E9A"/>
<rect x="222.78" y="304" width="3.07" height="9.1" fill="#B5461B"/>
<rect x="226" y="297.63" width="3.07" height="15.47" fill="#98701A"/>
<rect x="229.22" y="305.06" width="3.07" height="8.04" fill="#5F6165"/>
<rect x="234.04" y="297.78" width="3.07" height="15.32" fill="#4472C4"/>
<rect x="237.26" y="303.54" width="3.07" height="9.56" fill="#ED7D31"/>
<rect x="240.48" y="304.15" width="3.07" height="8.95" fill="#FFC000"/>
<rect x="243.69" y="305.06" width="3.07" height="8.04" fill="#4A9FE0"/>
<rect x="246.91" y="295.96" width="3.07" height="17.14" fill="#70AD47"/>
<rect x="250.13" y="299.9" width="3.07" height="13.2" fill="#264E9A"/>
<rect x="253.34" y="301.72" width="3.07" height="11.38" fill="#B5461B"/>
<rect x="256.56" y="292.77" width="3.07" height="20.33" fill="#98701A"/>
<rect x="259.78" y="302.18" width="3.07" height="10.92" fill="#5F6165"/>
<path d="M21.71 296.41V298.54M20.36 296.41H23.06M20.36 298.54H23.06M24.93 296.87V298.99M23.58 296.87H26.28M23.58 298.99H26.28M28.15 295.96V300.51M26.8 295.96H29.5M26.8 300.51H29.5M31.36 296.41V299.45M30.01 296.41H32.72M30.01 299.45H32.72M34.58 296.72V298.23M33.23 296.72H35.93M33.23 298.23H35.93M37.8 296.41V299.45M36.45 296.41H39.15M36.45 299.45H39.15M41.02 291.1V304.76M39.66 291.1H42.37M39.66 304.76H42.37M44.23 288.83V307.03M42.88 288.83H45.58M42.88 307.03H45.58M55.49 299.14V303.69M54.14 299.14H56.84M54.14 303.69H56.84M61.93 301.87V303.39M60.58 301.87H63.28M60.58 303.39H63.28M68.36 295.96V297.47M67.01 295.96H69.71M67.01 297.47H69.71M71.58 288.07V301.72M70.23 288.07H72.93M70.23 301.72H72.93M74.8 278.82V292.47M73.44 278.82H76.15M73.44 292.47H76.15M78.01 293.53V301.12M76.66 293.53H79.36M76.66 301.12H79.36" fill="none" stroke="#404040" stroke-width="0.6"/>
<text class="b" x="24.6" y="323.1" text-anchor="start" font-size="6.5" fill="#262626">S12B<tspan class="g" font-size="6.8" dx="-0.1" baseline-shift="-0.8">♀</tspan></text>
<text class="b" x="56.5" y="323.1" text-anchor="start" font-size="6.5" fill="#262626">S6C<tspan class="g" font-size="6.4" dx="0.2" baseline-shift="0.5">♂</tspan></text>
<text class="b" x="95.71" y="323.1" text-anchor="middle" font-size="6.5" fill="#262626">1K/1/1</text>
<text class="b" x="126.27" y="323.1" text-anchor="middle" font-size="6.5" fill="#262626">1K/1/2</text>
<text class="b" x="156.83" y="323.1" text-anchor="middle" font-size="6.5" fill="#262626">1K/2/1</text>
<text class="b" x="187.39" y="323.1" text-anchor="middle" font-size="6.5" fill="#262626">1K/2/2</text>
<text class="b" x="217.96" y="323.1" text-anchor="middle" font-size="6.5" fill="#262626">1K/3/1</text>
<text class="b" x="248.52" y="323.1" text-anchor="middle" font-size="6.5" fill="#262626">1K/3/2</text>
<text class="t" x="68.7" y="256.2" font-size="7.6" fill="#1F1F1F">S12B<tspan class="g" font-size="9.4" dx="-1.3" baseline-shift="-1.6">♀</tspan></text>
<text class="t" x="97" y="256.2" font-size="7.6" fill="#1F1F1F">x S6C<tspan class="g" font-size="8.7" dx="-0.7" baseline-shift="-0.8">♂</tspan></text>
<text class="t" x="133.6" y="256.2" font-size="7.6" fill="#1F1F1F">C1 6xF2</text>
<text class="t" x="173.5" y="256.2" font-size="7.6" fill="#1F1F1F">Phenotype</text>
<rect x="45" y="334.1" width="3" height="3" fill="#4472C4"/>
<text class="l" x="49.2" y="337.5" font-size="6.25" fill="#262626">Plant height</text>
<rect x="108.4" y="334.1" width="3" height="3" fill="#ED7D31"/>
<text class="l" x="112.6" y="337.5" font-size="6.25" fill="#262626">Spike no.</text>
<rect x="170.6" y="334.1" width="3" height="3" fill="#FFC000"/>
<text class="l" x="175.7" y="337.5" font-size="6.25" fill="#262626">Grain no.</text>
<rect x="45" y="345.4" width="3" height="3" fill="#4A9FE0"/>
<text class="l" x="49.2" y="348.8" font-size="6.25" fill="#262626">Grain yield</text>
<rect x="108.4" y="345.4" width="3" height="3" fill="#70AD47"/>
<text class="l" x="112.6" y="348.8" font-size="6.25" fill="#262626">Spike length</text>
<rect x="170.6" y="345.4" width="3" height="3" fill="#264E9A"/>
<text class="l" x="175.7" y="348.8" font-size="6.25" fill="#262626">TGW</text>
<rect x="45" y="356.8" width="3" height="3" fill="#B5461B"/>
<text class="l" x="49.2" y="360.2" font-size="6.25" fill="#262626">Root weight</text>
<rect x="108.4" y="356.8" width="3" height="3" fill="#98701A"/>
<text class="l" x="112.6" y="360.2" font-size="6.25" fill="#262626">CKX act. Root</text>
<rect x="170.6" y="356.8" width="3" height="3" fill="#5F6165"/>
<text class="l" x="175.7" y="360.2" font-size="6.25" fill="#262626">CKX act. Spike 7DAP</text>
</g>
<g>
<rect x="276.2" y="3.5" width="266.9" height="111.7" fill="#FFFFFF" stroke="#E0E0E0" stroke-width="1"/>
<line x1="292" y1="82.3" x2="536" y2="82.3" stroke="#DCDCDC" stroke-width="0.7"/>
<line x1="292" y1="73.3" x2="536" y2="73.3" stroke="#DCDCDC" stroke-width="0.7"/>
<line x1="292" y1="64.3" x2="536" y2="64.3" stroke="#DCDCDC" stroke-width="0.7"/>
<line x1="292" y1="55.3" x2="536" y2="55.3" stroke="#DCDCDC" stroke-width="0.7"/>
<line x1="292" y1="46.3" x2="536" y2="46.3" stroke="#DCDCDC" stroke-width="0.7"/>
<line x1="292" y1="37.3" x2="536" y2="37.3" stroke="#DCDCDC" stroke-width="0.7"/>
<line x1="292" y1="28.3" x2="536" y2="28.3" stroke="#DCDCDC" stroke-width="0.7"/>
<text class="t" x="284.8" y="84.95" text-anchor="end" font-size="7.8" fill="#262626">0</text>
<text class="t" x="284.8" y="75.95" text-anchor="end" font-size="7.8" fill="#262626">1</text>
<text class="t" x="284.8" y="66.95" text-anchor="end" font-size="7.8" fill="#262626">2</text>
<text class="t" x="284.8" y="57.95" text-anchor="end" font-size="7.8" fill="#262626">3</text>
<text class="t" x="284.8" y="48.95" text-anchor="end" font-size="7.8" fill="#262626">4</text>
<text class="t" x="284.8" y="39.95" text-anchor="end" font-size="7.8" fill="#262626">5</text>
<text class="t" x="284.8" y="30.95" text-anchor="end" font-size="7.8" fill="#262626">6</text>
<rect x="293.35" y="73.75" width="2.69" height="8.1" fill="#A2B8E2" stroke="#5A83CB" stroke-width="0.9"/>
<rect x="296.94" y="73.75" width="2.69" height="8.1" fill="#F6BE98" stroke="#EF8D4A" stroke-width="0.9"/>
<rect x="300.52" y="73.75" width="2.69" height="8.1" fill="#D2D2D2" stroke="#B0B0B0" stroke-width="0.9"/>
<rect x="304.11" y="73.75" width="2.69" height="8.1" fill="#FFE080" stroke="#FFC81F" stroke-width="0.9"/>
<rect x="307.7" y="73.75" width="2.69" height="8.1" fill="#ADCDEA" stroke="#6FA7DA" stroke-width="0.9"/>
<rect x="311.29" y="73.75" width="2.69" height="8.1" fill="#B8D6A3" stroke="#81B75D" stroke-width="0.9"/>
<rect x="314.88" y="73.75" width="2.69" height="8.1" fill="#92A2BC" stroke="#405A88" stroke-width="0.9"/>
<rect x="318.46" y="73.75" width="2.69" height="8.1" fill="#CEA486" stroke="#AA5E2B" stroke-width="0.9"/>
<rect x="323.85" y="79.24" width="2.69" height="2.61" fill="#A2B8E2" stroke="#5A83CB" stroke-width="0.9"/>
<rect x="327.44" y="76.9" width="2.69" height="4.95" fill="#F6BE98" stroke="#EF8D4A" stroke-width="0.9"/>
<rect x="331.02" y="75.55" width="2.69" height="6.3" fill="#D2D2D2" stroke="#B0B0B0" stroke-width="0.9"/>
<rect x="334.61" y="65.02" width="2.69" height="16.83" fill="#FFE080" stroke="#FFC81F" stroke-width="0.9"/>
<rect x="338.2" y="65.56" width="2.69" height="16.29" fill="#ADCDEA" stroke="#6FA7DA" stroke-width="0.9"/>
<rect x="341.79" y="73.39" width="2.69" height="8.46" fill="#B8D6A3" stroke="#81B75D" stroke-width="0.9"/>
<rect x="345.38" y="75.01" width="2.69" height="6.84" fill="#92A2BC" stroke="#405A88" stroke-width="0.9"/>
<rect x="348.96" y="78.07" width="2.69" height="3.78" fill="#CEA486" stroke="#AA5E2B" stroke-width="0.9"/>
<rect x="354.35" y="73.39" width="2.69" height="8.46" fill="#A2B8E2" stroke="#5A83CB" stroke-width="0.9"/>
<rect x="357.94" y="70.87" width="2.69" height="10.98" fill="#F6BE98" stroke="#EF8D4A" stroke-width="0.9"/>
<rect x="361.52" y="71.41" width="2.69" height="10.44" fill="#D2D2D2" stroke="#B0B0B0" stroke-width="0.9"/>
<rect x="368.7" y="67.18" width="2.69" height="14.67" fill="#ADCDEA" stroke="#6FA7DA" stroke-width="0.9"/>
<rect x="375.88" y="66.82" width="2.69" height="15.03" fill="#92A2BC" stroke="#405A88" stroke-width="0.9"/>
<rect x="379.46" y="79.24" width="2.69" height="2.61" fill="#CEA486" stroke="#AA5E2B" stroke-width="0.9"/>
<rect x="384.85" y="78.61" width="2.69" height="3.24" fill="#A2B8E2" stroke="#5A83CB" stroke-width="0.9"/>
<rect x="388.44" y="71.41" width="2.69" height="10.44" fill="#F6BE98" stroke="#EF8D4A" stroke-width="0.9"/>
<rect x="392.02" y="72.67" width="2.69" height="9.18" fill="#D2D2D2" stroke="#B0B0B0" stroke-width="0.9"/>
<rect x="395.61" y="69.7" width="2.69" height="12.15" fill="#FFE080" stroke="#FFC81F" stroke-width="0.9"/>
<rect x="399.2" y="60.52" width="2.69" height="21.33" fill="#ADCDEA" stroke="#6FA7DA" stroke-width="0.9"/>
<rect x="402.79" y="68.53" width="2.69" height="13.32" fill="#B8D6A3" stroke="#81B75D" stroke-width="0.9"/>
<rect x="406.38" y="73.57" width="2.69" height="8.28" fill="#92A2BC" stroke="#405A88" stroke-width="0.9"/>
<rect x="409.96" y="79.78" width="2.69" height="2.07" fill="#CEA486" stroke="#AA5E2B" stroke-width="0.9"/>
<rect x="415.35" y="76.27" width="2.69" height="5.58" fill="#A2B8E2" stroke="#5A83CB" stroke-width="0.9"/>
<rect x="418.94" y="75.01" width="2.69" height="6.84" fill="#F6BE98" stroke="#EF8D4A" stroke-width="0.9"/>
<rect x="422.52" y="73.3" width="2.69" height="8.55" fill="#D2D2D2" stroke="#B0B0B0" stroke-width="0.9"/>
<rect x="426.11" y="68.98" width="2.69" height="12.87" fill="#FFE080" stroke="#FFC81F" stroke-width="0.9"/>
<rect x="429.7" y="67.63" width="2.69" height="14.22" fill="#ADCDEA" stroke="#6FA7DA" stroke-width="0.9"/>
<rect x="433.29" y="52.15" width="2.69" height="29.7" fill="#B8D6A3" stroke="#81B75D" stroke-width="0.9"/>
<rect x="436.88" y="73.93" width="2.69" height="7.92" fill="#92A2BC" stroke="#405A88" stroke-width="0.9"/>
<rect x="440.46" y="78.79" width="2.69" height="3.06" fill="#CEA486" stroke="#AA5E2B" stroke-width="0.9"/>
<rect x="445.85" y="78.79" width="2.69" height="3.06" fill="#A2B8E2" stroke="#5A83CB" stroke-width="0.9"/>
<rect x="449.44" y="76" width="2.69" height="5.85" fill="#F6BE98" stroke="#EF8D4A" stroke-width="0.9"/>
<rect x="453.02" y="72.22" width="2.69" height="9.63" fill="#D2D2D2" stroke="#B0B0B0" stroke-width="0.9"/>
<rect x="456.61" y="60.25" width="2.69" height="21.6" fill="#FFE080" stroke="#FFC81F" stroke-width="0.9"/>
<rect x="460.2" y="67.45" width="2.69" height="14.4" fill="#ADCDEA" stroke="#6FA7DA" stroke-width="0.9"/>
<rect x="467.38" y="68.98" width="2.69" height="12.87" fill="#92A2BC" stroke="#405A88" stroke-width="0.9"/>
<rect x="470.96" y="80.59" width="2.69" height="1.26" fill="#CEA486" stroke="#AA5E2B" stroke-width="0.9"/>
<rect x="476.35" y="75.01" width="2.69" height="6.84" fill="#A2B8E2" stroke="#5A83CB" stroke-width="0.9"/>
<rect x="479.94" y="78.07" width="2.69" height="3.78" fill="#F6BE98" stroke="#EF8D4A" stroke-width="0.9"/>
<rect x="483.52" y="73.84" width="2.69" height="8.01" fill="#D2D2D2" stroke="#B0B0B0" stroke-width="0.9"/>
<rect x="487.11" y="69.25" width="2.69" height="12.6" fill="#FFE080" stroke="#FFC81F" stroke-width="0.9"/>
<rect x="490.7" y="65.02" width="2.69" height="16.83" fill="#ADCDEA" stroke="#6FA7DA" stroke-width="0.9"/>
<rect x="494.29" y="66.37" width="2.69" height="15.48" fill="#B8D6A3" stroke="#81B75D" stroke-width="0.9"/>
<rect x="497.88" y="65.56" width="2.69" height="16.29" fill="#92A2BC" stroke="#405A88" stroke-width="0.9"/>
<rect x="501.46" y="80.95" width="2.69" height="0.9" fill="#CEA486" stroke="#AA5E2B" stroke-width="0.9"/>
<rect x="506.85" y="69.7" width="2.69" height="12.15" fill="#A2B8E2" stroke="#5A83CB" stroke-width="0.9"/>
<rect x="510.44" y="78.61" width="2.69" height="3.24" fill="#F6BE98" stroke="#EF8D4A" stroke-width="0.9"/>
<rect x="514.02" y="75.19" width="2.69" height="6.66" fill="#D2D2D2" stroke="#B0B0B0" stroke-width="0.9"/>
<rect x="517.61" y="73.84" width="2.69" height="8.01" fill="#FFE080" stroke="#FFC81F" stroke-width="0.9"/>
<rect x="521.2" y="66.37" width="2.69" height="15.48" fill="#ADCDEA" stroke="#6FA7DA" stroke-width="0.9"/>
<rect x="528.38" y="65.56" width="2.69" height="16.29" fill="#92A2BC" stroke="#405A88" stroke-width="0.9"/>
<rect x="531.96" y="78.88" width="2.69" height="2.97" fill="#CEA486" stroke="#AA5E2B" stroke-width="0.9"/>
<path d="M294.69 71.5V75.1M293.18 71.5H296.2M293.18 75.1H296.2M298.28 71.05V75.55M296.77 71.05H299.79M296.77 75.55H299.79M301.87 69.25V77.35M300.36 69.25H303.37M300.36 77.35H303.37M305.46 70.6V76M303.95 70.6H306.96M303.95 76H306.96M309.04 70.6V76M307.54 70.6H310.55M307.54 76H310.55M312.63 67V79.6M311.13 67H314.14M311.13 79.6H314.14M316.22 71.5V75.1M314.71 71.5H317.73M314.71 75.1H317.73M319.81 70.6V76M318.3 70.6H321.32M318.3 76H321.32M325.19 78.34V79.24M323.68 78.34H326.7M323.68 79.24H326.7M328.78 74.65V78.25M327.27 74.65H330.29M327.27 78.25H330.29M332.37 70.6V79.6M330.86 70.6H333.87M330.86 79.6H333.87M335.96 59.62V69.52M334.45 59.62H337.46M334.45 69.52H337.46M339.54 58.81V71.41M338.04 58.81H341.05M338.04 71.41H341.05M343.13 68.89V76.99M341.63 68.89H344.64M341.63 76.99H344.64M346.72 72.76V76.36M345.21 72.76H348.23M345.21 76.36H348.23M350.31 76.27V78.97M348.8 76.27H351.82M348.8 78.97H351.82M355.69 72.04V73.84M354.18 72.04H357.2M354.18 73.84H357.2M359.28 69.52V71.32M357.77 69.52H360.79M357.77 71.32H360.79M362.87 68.26V73.66M361.36 68.26H364.37M361.36 73.66H364.37M370.04 62.68V70.78M368.54 62.68H371.55M368.54 70.78H371.55M377.22 63.22V69.52M375.71 63.22H378.73M375.71 69.52H378.73M380.81 77.89V79.69M379.3 77.89H382.32M379.3 79.69H382.32M386.19 77.71V78.61M384.68 77.71H387.7M384.68 78.61H387.7M389.78 70.06V71.86M388.27 70.06H391.29M388.27 71.86H391.29M393.37 68.62V75.82M391.86 68.62H394.87M391.86 75.82H394.87M396.96 64.3V74.2M395.45 64.3H398.46M395.45 74.2H398.46M400.54 53.77V66.37M399.04 53.77H402.05M399.04 66.37H402.05M404.13 67.63V68.53M402.63 67.63H405.64M402.63 68.53H405.64M407.72 72.22V74.02M406.21 72.22H409.23M406.21 74.02H409.23M411.31 78.88V79.78M409.8 78.88H412.82M409.8 79.78H412.82M416.69 75.37V76.27M415.18 75.37H418.2M415.18 76.27H418.2M420.28 74.11V75.01M418.77 74.11H421.79M418.77 75.01H421.79M423.87 68.35V77.35M422.36 68.35H425.37M422.36 77.35H425.37M427.46 66.73V70.33M425.95 66.73H428.96M425.95 70.33H428.96M431.04 66.28V68.08M429.54 66.28H432.55M429.54 68.08H432.55M434.63 49.45V53.95M433.13 49.45H436.14M433.13 53.95H436.14M438.22 72.58V74.38M436.71 72.58H439.73M436.71 74.38H439.73M441.81 77.89V78.79M440.3 77.89H443.32M440.3 78.79H443.32M447.19 77.89V78.79M445.68 77.89H448.7M445.68 78.79H448.7M450.78 75.1V76M449.27 75.1H452.29M449.27 76H452.29M454.37 68.62V74.92M452.86 68.62H455.87M452.86 74.92H455.87M457.96 59.35V60.25M456.45 59.35H459.46M456.45 60.25H459.46M461.54 60.7V73.3M460.04 60.7H463.05M460.04 73.3H463.05M468.72 67.63V69.43M467.21 67.63H470.23M467.21 69.43H470.23M472.31 79.69V80.59M470.8 79.69H473.82M470.8 80.59H473.82M477.69 74.11V75.01M476.18 74.11H479.2M476.18 75.01H479.2M481.28 76.72V78.52M479.77 76.72H482.79M479.77 78.52H482.79M484.87 71.14V75.64M483.36 71.14H486.37M483.36 75.64H486.37M488.46 67V70.6M486.95 67H489.96M486.95 70.6H489.96M492.04 59.17V69.97M490.54 59.17H493.55M490.54 69.97H493.55M495.63 59.17V72.67M494.13 59.17H497.14M494.13 72.67H497.14M499.22 61.51V68.71M497.71 61.51H500.73M497.71 68.71H500.73M502.81 80.05V80.95M501.3 80.05H504.32M501.3 80.95H504.32M508.19 68.35V70.15M506.68 68.35H509.7M506.68 70.15H509.7M511.78 77.71V78.61M510.27 77.71H513.29M510.27 78.61H513.29M515.37 73.84V75.64M513.86 73.84H516.87M513.86 75.64H516.87M518.96 69.79V76.99M517.45 69.79H520.46M517.45 76.99H520.46M522.54 57.37V74.47M521.04 57.37H524.05M521.04 74.47H524.05M529.72 64.21V66.01M528.21 64.21H531.23M528.21 66.01H531.23M533.31 77.53V79.33M531.8 77.53H534.82M531.8 79.33H534.82" fill="none" stroke="#6E6E6E" stroke-width="0.55"/>
<text x="294.5" y="65.19" text-anchor="middle" font-size="3.8" font-weight="bold" fill="#E8261C">*</text>
<text x="294.5" y="67.29" text-anchor="middle" font-size="3.8" font-weight="bold" fill="#E8261C">*</text>
<text x="294.5" y="69.39" text-anchor="middle" font-size="3.8" font-weight="bold" fill="#E8261C">*</text>
<text x="319.6" y="63.49" text-anchor="middle" font-size="3.8" font-weight="bold" fill="#E8261C">*</text>
<text x="319.6" y="65.59" text-anchor="middle" font-size="3.8" font-weight="bold" fill="#E8261C">*</text>
<text x="319.6" y="67.69" text-anchor="middle" font-size="3.8" font-weight="bold" fill="#E8261C">*</text>
<text x="325.1" y="70.79" text-anchor="middle" font-size="3.8" font-weight="bold" fill="#1A1A1A">*</text>
<text x="325.1" y="72.89" text-anchor="middle" font-size="3.8" font-weight="bold" fill="#1A1A1A">*</text>
<text x="325.1" y="74.99" text-anchor="middle" font-size="3.8" font-weight="bold" fill="#1A1A1A">*</text>
<text x="350.3" y="70.79" text-anchor="middle" font-size="3.8" font-weight="bold" fill="#1A1A1A">*</text>
<text x="350.3" y="72.89" text-anchor="middle" font-size="3.8" font-weight="bold" fill="#1A1A1A">*</text>
<text x="350.3" y="74.99" text-anchor="middle" font-size="3.8" font-weight="bold" fill="#1A1A1A">*</text>
<text x="355.9" y="64.39" text-anchor="middle" font-size="3.8" font-weight="bold" fill="#E8261C">*</text>
<text x="355.9" y="66.49" text-anchor="middle" font-size="3.8" font-weight="bold" fill="#E8261C">*</text>
<text x="355.9" y="68.59" text-anchor="middle" font-size="3.8" font-weight="bold" fill="#E8261C">*</text>
<text x="359.5" y="65.84" text-anchor="middle" font-size="3.8" font-weight="bold" fill="#E8261C">*</text>
<text x="359.5" y="67.94" text-anchor="middle" font-size="3.8" font-weight="bold" fill="#E8261C">*</text>
<text x="377.2" y="52.24" text-anchor="middle" font-size="3.8" font-weight="bold" fill="#E8261C">*</text>
<text x="377.2" y="54.34" text-anchor="middle" font-size="3.8" font-weight="bold" fill="#E8261C">*</text>
<text x="377.2" y="59.74" text-anchor="middle" font-size="3.8" font-weight="bold" fill="#1A1A1A">*</text>
<text x="377.2" y="61.84" text-anchor="middle" font-size="3.8" font-weight="bold" fill="#1A1A1A">*</text>
<text x="380.8" y="72.19" text-anchor="middle" font-size="3.8" font-weight="bold" fill="#1A1A1A">*</text>
<text x="380.8" y="74.29" text-anchor="middle" font-size="3.8" font-weight="bold" fill="#1A1A1A">*</text>
<text x="380.8" y="76.39" text-anchor="middle" font-size="3.8" font-weight="bold" fill="#1A1A1A">*</text>
<text x="385.9" y="70.79" text-anchor="middle" font-size="3.8" font-weight="bold" fill="#1A1A1A">*</text>
<text x="385.9" y="72.89" text-anchor="middle" font-size="3.8" font-weight="bold" fill="#1A1A1A">*</text>
<text x="385.9" y="74.99" text-anchor="middle" font-size="3.8" font-weight="bold" fill="#1A1A1A">*</text>
<text x="389.8" y="65.94" text-anchor="middle" font-size="3.8" font-weight="bold" fill="#E8261C">*</text>
<text x="389.8" y="68.04" text-anchor="middle" font-size="3.8" font-weight="bold" fill="#E8261C">*</text>
<text x="411.2" y="72.39" text-anchor="middle" font-size="3.8" font-weight="bold" fill="#1A1A1A">*</text>
<text x="411.2" y="74.49" text-anchor="middle" font-size="3.8" font-weight="bold" fill="#1A1A1A">*</text>
<text x="411.2" y="76.59" text-anchor="middle" font-size="3.8" font-weight="bold" fill="#1A1A1A">*</text>
<text x="417" y="63.74" text-anchor="middle" font-size="3.8" font-weight="bold" fill="#E8261C">*</text>
<text x="417" y="65.84" text-anchor="middle" font-size="3.8" font-weight="bold" fill="#E8261C">*</text>
<text x="417" y="70.44" text-anchor="middle" font-size="3.8" font-weight="bold" fill="#1A1A1A">*</text>
<text x="417" y="72.54" text-anchor="middle" font-size="3.8" font-weight="bold" fill="#1A1A1A">*</text>
<text x="434.5" y="39.84" text-anchor="middle" font-size="3.8" font-weight="bold" fill="#E8261C">*</text>
<text x="434.5" y="41.94" text-anchor="middle" font-size="3.8" font-weight="bold" fill="#E8261C">*</text>
<text x="434.5" y="45.44" text-anchor="middle" font-size="3.8" font-weight="bold" fill="#1A1A1A">*</text>
<text x="434.5" y="47.54" text-anchor="middle" font-size="3.8" font-weight="bold" fill="#1A1A1A">*</text>
<text x="441.3" y="70.89" text-anchor="middle" font-size="3.8" font-weight="bold" fill="#1A1A1A">*</text>
<text x="441.3" y="72.99" text-anchor="middle" font-size="3.8" font-weight="bold" fill="#1A1A1A">*</text>
<text x="441.3" y="75.09" text-anchor="middle" font-size="3.8" font-weight="bold" fill="#1A1A1A">*</text>
<text x="446.9" y="70.44" text-anchor="middle" font-size="3.8" font-weight="bold" fill="#1A1A1A">*</text>
<text x="446.9" y="72.54" text-anchor="middle" font-size="3.8" font-weight="bold" fill="#1A1A1A">*</text>
<text x="446.9" y="74.64" text-anchor="middle" font-size="3.8" font-weight="bold" fill="#1A1A1A">*</text>
<text x="468.9" y="59.84" text-anchor="middle" font-size="3.8" font-weight="bold" fill="#E8261C">*</text>
<text x="468.9" y="61.94" text-anchor="middle" font-size="3.8" font-weight="bold" fill="#E8261C">*</text>
<text x="468.9" y="65.39" text-anchor="middle" font-size="3.8" font-weight="bold" fill="#1A1A1A">*</text>
<text x="472.5" y="74.39" text-anchor="middle" font-size="3.8" font-weight="bold" fill="#1A1A1A">*</text>
<text x="472.5" y="76.49" text-anchor="middle" font-size="3.8" font-weight="bold" fill="#1A1A1A">*</text>
<text x="472.5" y="78.59" text-anchor="middle" font-size="3.8" font-weight="bold" fill="#1A1A1A">*</text>
<text x="477.9" y="67.09" text-anchor="middle" font-size="3.8" font-weight="bold" fill="#E8261C">*</text>
<text x="477.9" y="69.19" text-anchor="middle" font-size="3.8" font-weight="bold" fill="#E8261C">*</text>
<text x="477.9" y="71.29" text-anchor="middle" font-size="3.8" font-weight="bold" fill="#E8261C">*</text>
<text x="481.4" y="72.44" text-anchor="middle" font-size="3.8" font-weight="bold" fill="#1A1A1A">*</text>
<text x="481.4" y="74.54" text-anchor="middle" font-size="3.8" font-weight="bold" fill="#1A1A1A">*</text>
<text x="488.4" y="68.79" text-anchor="middle" font-size="3.8" font-weight="bold" fill="#E8261C">*</text>
<text x="499.7" y="47.09" text-anchor="middle" font-size="3.8" font-weight="bold" fill="#E8261C">*</text>
<text x="499.7" y="49.19" text-anchor="middle" font-size="3.8" font-weight="bold" fill="#E8261C">*</text>
<text x="499.7" y="51.29" text-anchor="middle" font-size="3.8" font-weight="bold" fill="#E8261C">*</text>
<text x="499.7" y="55.59" text-anchor="middle" font-size="3.8" font-weight="bold" fill="#1A1A1A">*</text>
<text x="499.7" y="57.69" text-anchor="middle" font-size="3.8" font-weight="bold" fill="#1A1A1A">*</text>
<text x="499.7" y="59.79" text-anchor="middle" font-size="3.8" font-weight="bold" fill="#1A1A1A">*</text>
<text x="502.9" y="68.59" text-anchor="middle" font-size="3.8" font-weight="bold" fill="#E8261C">*</text>
<text x="502.9" y="73.49" text-anchor="middle" font-size="3.8" font-weight="bold" fill="#1A1A1A">*</text>
<text x="502.9" y="75.59" text-anchor="middle" font-size="3.8" font-weight="bold" fill="#1A1A1A">*</text>
<text x="502.9" y="77.69" text-anchor="middle" font-size="3.8" font-weight="bold" fill="#1A1A1A">*</text>
<text x="508.4" y="52.89" text-anchor="middle" font-size="3.8" font-weight="bold" fill="#E8261C">*</text>
<text x="508.4" y="54.99" text-anchor="middle" font-size="3.8" font-weight="bold" fill="#E8261C">*</text>
<text x="508.4" y="57.09" text-anchor="middle" font-size="3.8" font-weight="bold" fill="#E8261C">*</text>
<text x="508.4" y="61.69" text-anchor="middle" font-size="3.8" font-weight="bold" fill="#1A1A1A">*</text>
<text x="508.4" y="63.79" text-anchor="middle" font-size="3.8" font-weight="bold" fill="#1A1A1A">*</text>
<text x="508.4" y="65.89" text-anchor="middle" font-size="3.8" font-weight="bold" fill="#1A1A1A">*</text>
<text x="512" y="74.14" text-anchor="middle" font-size="3.8" font-weight="bold" fill="#1A1A1A">*</text>
<text x="512" y="76.24" text-anchor="middle" font-size="3.8" font-weight="bold" fill="#1A1A1A">*</text>
<text x="529.3" y="52.84" text-anchor="middle" font-size="3.8" font-weight="bold" fill="#E8261C">*</text>
<text x="529.3" y="54.94" text-anchor="middle" font-size="3.8" font-weight="bold" fill="#E8261C">*</text>
<text x="529.3" y="60.74" text-anchor="middle" font-size="3.8" font-weight="bold" fill="#1A1A1A">*</text>
<text x="529.3" y="62.84" text-anchor="middle" font-size="3.8" font-weight="bold" fill="#1A1A1A">*</text>
<text x="533.5" y="71.79" text-anchor="middle" font-size="3.8" font-weight="bold" fill="#1A1A1A">*</text>
<text x="533.5" y="73.89" text-anchor="middle" font-size="3.8" font-weight="bold" fill="#1A1A1A">*</text>
<text x="533.5" y="75.99" text-anchor="middle" font-size="3.8" font-weight="bold" fill="#1A1A1A">*</text>
<text class="b" x="298.8" y="92.7" text-anchor="start" font-size="6.5" fill="#262626">S6C<tspan class="g" font-size="6.8" dx="-0.1" baseline-shift="-0.8">♀</tspan></text>
<text class="b" x="327.8" y="92.7" text-anchor="start" font-size="6.5" fill="#262626">S12B<tspan class="g" font-size="6.4" dx="1.3" baseline-shift="0.5">♂</tspan></text>
<text class="b" x="368.25" y="92.7" text-anchor="middle" font-size="6.5" fill="#262626">4K/1/1</text>
<text class="b" x="398.75" y="92.7" text-anchor="middle" font-size="6.5" fill="#262626">4K/1/2</text>
<text class="b" x="429.25" y="92.7" text-anchor="middle" font-size="6.5" fill="#262626">4K/2/1</text>
<text class="b" x="459.75" y="92.7" text-anchor="middle" font-size="6.5" fill="#262626">4K/2/2</text>
<text class="b" x="490.25" y="92.7" text-anchor="middle" font-size="6.5" fill="#262626">4K/3/1</text>
<text class="b" x="520.75" y="92.7" text-anchor="middle" font-size="6.5" fill="#262626">4K/3/2</text>
<text class="t" x="335.2" y="17" font-size="8" fill="#1F1F1F">S6C<tspan class="g" font-size="9.4" dx="1.2" baseline-shift="-1.6">♀</tspan><tspan dx="0.8">x S12B</tspan><tspan class="g" font-size="8.4" dx="0.7" baseline-shift="-0.8">♂</tspan></text>
<text class="t" x="407.1" y="17" font-size="8" fill="#1F1F1F">C2 6xF<tspan dy="1.6" font-size="5.4">2</tspan></text>
<text class="t" x="442.9" y="17" font-size="8" fill="#1F1F1F">Spike 7 DAP</text>
<rect x="296.45" y="103.9" width="3" height="3" fill="#A2B8E2" stroke="#5A83CB" stroke-width="0.7"/>
<text class="t" x="300.5" y="107.45" font-size="6.45" font-style="italic" fill="#262626">CKX1</text>
<rect x="322.25" y="103.9" width="3" height="3" fill="#F6BE98" stroke="#EF8D4A" stroke-width="0.7"/>
<text class="t" x="326.8" y="107.45" font-size="6.45" font-style="italic" fill="#262626">CKX2.1</text>
<rect x="353.45" y="103.9" width="3" height="3" fill="#D2D2D2" stroke="#B0B0B0" stroke-width="0.7"/>
<text class="t" x="357.5" y="107.45" font-size="6.45" font-style="italic" fill="#262626">CKX2.2.2</text>
<rect x="387.75" y="103.9" width="3" height="3" fill="#FFE080" stroke="#FFC81F" stroke-width="0.7"/>
<text class="t" x="391.8" y="107.45" font-size="6.45" font-style="italic" fill="#262626">CKX5</text>
<rect x="413.45" y="103.9" width="3" height="3" fill="#ADCDEA" stroke="#6FA7DA" stroke-width="0.7"/>
<text class="t" x="417.5" y="107.45" font-size="6.45" font-style="italic" fill="#262626">CKX9</text>
<rect x="440.65" y="103.9" width="3" height="3" fill="#B8D6A3" stroke="#81B75D" stroke-width="0.7"/>
<text class="t" x="444.5" y="107.45" font-size="6.45" font-style="italic" fill="#262626">CKX10</text>
<rect x="469.45" y="103.9" width="3" height="3" fill="#92A2BC" stroke="#405A88" stroke-width="0.7"/>
<text class="t" x="473.5" y="107.45" font-size="6.45" font-style="italic" fill="#262626">CKX11</text>
<rect x="498.15" y="103.9" width="3" height="3" fill="#CEA486" stroke="#AA5E2B" stroke-width="0.7"/>
<text class="t" x="502.2" y="107.45" font-size="6.45" font-style="italic" fill="#262626">NAC2-5A</text>
</g>
<g>
<rect x="276.2" y="123.5" width="266.9" height="111" fill="#FFFFFF" stroke="#E0E0E0" stroke-width="1"/>
<line x1="294.2" y1="201.7" x2="538.2" y2="201.7" stroke="#DCDCDC" stroke-width="0.7"/>
<line x1="294.2" y1="193.45" x2="538.2" y2="193.45" stroke="#DCDCDC" stroke-width="0.7"/>
<line x1="294.2" y1="185.2" x2="538.2" y2="185.2" stroke="#DCDCDC" stroke-width="0.7"/>
<line x1="294.2" y1="176.95" x2="538.2" y2="176.95" stroke="#DCDCDC" stroke-width="0.7"/>
<line x1="294.2" y1="168.7" x2="538.2" y2="168.7" stroke="#DCDCDC" stroke-width="0.7"/>
<line x1="294.2" y1="160.45" x2="538.2" y2="160.45" stroke="#DCDCDC" stroke-width="0.7"/>
<line x1="294.2" y1="152.2" x2="538.2" y2="152.2" stroke="#DCDCDC" stroke-width="0.7"/>
<text class="t" x="286.8" y="204.35" text-anchor="end" font-size="7.8" fill="#262626">0</text>
<text class="t" x="286.8" y="196.1" text-anchor="end" font-size="7.8" fill="#262626">1</text>
<text class="t" x="286.8" y="187.85" text-anchor="end" font-size="7.8" fill="#262626">2</text>
<text class="t" x="286.8" y="179.6" text-anchor="end" font-size="7.8" fill="#262626">3</text>
<text class="t" x="286.8" y="171.35" text-anchor="end" font-size="7.8" fill="#262626">4</text>
<text class="t" x="286.8" y="163.1" text-anchor="end" font-size="7.8" fill="#262626">5</text>
<text class="t" x="286.8" y="154.85" text-anchor="end" font-size="7.8" fill="#262626">6</text>
<rect x="295.67" y="193.9" width="3.17" height="7.35" fill="#B8D6A3" stroke="#81B75D" stroke-width="0.9"/>
<rect x="299.73" y="193.9" width="3.17" height="7.35" fill="#ADCDEA" stroke="#6FA7DA" stroke-width="0.9"/>
<rect x="303.8" y="193.9" width="3.17" height="7.35" fill="#FFE080" stroke="#FFC81F" stroke-width="0.9"/>
<rect x="307.87" y="193.9" width="3.17" height="7.35" fill="#A7BF9A" stroke="#648E4D" stroke-width="0.9"/>
<rect x="311.93" y="193.9" width="3.17" height="7.35" fill="#96B5D2" stroke="#477DB1" stroke-width="0.9"/>
<rect x="316" y="193.9" width="3.17" height="7.35" fill="#DCC59C" stroke="#C19952" stroke-width="0.9"/>
<rect x="320.07" y="193.9" width="3.17" height="7.35" fill="#C6E0B4" stroke="#9AC87A" stroke-width="0.9"/>
<rect x="326.17" y="196.54" width="3.17" height="4.71" fill="#B8D6A3" stroke="#81B75D" stroke-width="0.9"/>
<rect x="330.23" y="198.02" width="3.17" height="3.23" fill="#ADCDEA" stroke="#6FA7DA" stroke-width="0.9"/>
<rect x="334.3" y="200.17" width="3.17" height="1.08" fill="#FFE080" stroke="#FFC81F" stroke-width="0.9"/>
<rect x="338.37" y="191.34" width="3.17" height="9.91" fill="#A7BF9A" stroke="#648E4D" stroke-width="0.9"/>
<rect x="342.43" y="181.44" width="3.17" height="19.81" fill="#96B5D2" stroke="#477DB1" stroke-width="0.9"/>
<rect x="346.5" y="173.36" width="3.17" height="27.89" fill="#DCC59C" stroke="#C19952" stroke-width="0.9"/>
<rect x="350.57" y="199.84" width="3.17" height="1.41" fill="#C6E0B4" stroke="#9AC87A" stroke-width="0.9"/>
<rect x="356.67" y="198.93" width="3.17" height="2.32" fill="#B8D6A3" stroke="#81B75D" stroke-width="0.9"/>
<rect x="360.73" y="198.02" width="3.17" height="3.23" fill="#ADCDEA" stroke="#6FA7DA" stroke-width="0.9"/>
<rect x="364.8" y="191.67" width="3.17" height="9.58" fill="#FFE080" stroke="#FFC81F" stroke-width="0.9"/>
<rect x="368.87" y="176.41" width="3.17" height="24.84" fill="#A7BF9A" stroke="#648E4D" stroke-width="0.9"/>
<rect x="372.93" y="172.45" width="3.17" height="28.8" fill="#96B5D2" stroke="#477DB1" stroke-width="0.9"/>
<rect x="377" y="180.37" width="3.17" height="20.88" fill="#DCC59C" stroke="#C19952" stroke-width="0.9"/>
<rect x="381.07" y="200.17" width="3.17" height="1.08" fill="#C6E0B4" stroke="#9AC87A" stroke-width="0.9"/>
<rect x="387.17" y="198.35" width="3.17" height="2.9" fill="#B8D6A3" stroke="#81B75D" stroke-width="0.9"/>
<rect x="391.23" y="196.7" width="3.17" height="4.54" fill="#ADCDEA" stroke="#6FA7DA" stroke-width="0.9"/>
<rect x="395.3" y="193.49" width="3.17" height="7.76" fill="#FFE080" stroke="#FFC81F" stroke-width="0.9"/>
<rect x="399.37" y="187.22" width="3.17" height="14.03" fill="#A7BF9A" stroke="#648E4D" stroke-width="0.9"/>
<rect x="403.43" y="177.81" width="3.17" height="23.44" fill="#96B5D2" stroke="#477DB1" stroke-width="0.9"/>
<rect x="407.5" y="189.94" width="3.17" height="11.31" fill="#DCC59C" stroke="#C19952" stroke-width="0.9"/>
<rect x="411.57" y="198.02" width="3.17" height="3.23" fill="#C6E0B4" stroke="#9AC87A" stroke-width="0.9"/>
<rect x="417.67" y="194.39" width="3.17" height="6.85" fill="#B8D6A3" stroke="#81B75D" stroke-width="0.9"/>
<rect x="421.73" y="197.12" width="3.17" height="4.13" fill="#ADCDEA" stroke="#6FA7DA" stroke-width="0.9"/>
<rect x="425.8" y="183.59" width="3.17" height="17.66" fill="#FFE080" stroke="#FFC81F" stroke-width="0.9"/>
<rect x="429.87" y="183.59" width="3.17" height="17.66" fill="#A7BF9A" stroke="#648E4D" stroke-width="0.9"/>
<rect x="433.93" y="178.72" width="3.17" height="22.53" fill="#96B5D2" stroke="#477DB1" stroke-width="0.9"/>
<rect x="438" y="189.03" width="3.17" height="12.22" fill="#DCC59C" stroke="#C19952" stroke-width="0.9"/>
<rect x="442.07" y="198.02" width="3.17" height="3.23" fill="#C6E0B4" stroke="#9AC87A" stroke-width="0.9"/>
<rect x="448.17" y="196.21" width="3.17" height="5.04" fill="#B8D6A3" stroke="#81B75D" stroke-width="0.9"/>
<rect x="452.23" y="198.93" width="3.17" height="2.32" fill="#ADCDEA" stroke="#6FA7DA" stroke-width="0.9"/>
<rect x="456.3" y="188.12" width="3.17" height="13.12" fill="#FFE080" stroke="#FFC81F" stroke-width="0.9"/>
<rect x="460.37" y="185.4" width="3.17" height="15.85" fill="#A7BF9A" stroke="#648E4D" stroke-width="0.9"/>
<rect x="464.43" y="180.37" width="3.17" height="20.88" fill="#96B5D2" stroke="#477DB1" stroke-width="0.9"/>
<rect x="468.5" y="182.68" width="3.17" height="18.57" fill="#DCC59C" stroke="#C19952" stroke-width="0.9"/>
<rect x="472.57" y="198.02" width="3.17" height="3.23" fill="#C6E0B4" stroke="#9AC87A" stroke-width="0.9"/>
<rect x="478.67" y="199.43" width="3.17" height="1.82" fill="#B8D6A3" stroke="#81B75D" stroke-width="0.9"/>
<rect x="482.73" y="197.12" width="3.17" height="4.13" fill="#ADCDEA" stroke="#6FA7DA" stroke-width="0.9"/>
<rect x="486.8" y="194.39" width="3.17" height="6.85" fill="#FFE080" stroke="#FFC81F" stroke-width="0.9"/>
<rect x="490.87" y="181.44" width="3.17" height="19.81" fill="#A7BF9A" stroke="#648E4D" stroke-width="0.9"/>
<rect x="494.93" y="183.59" width="3.17" height="17.66" fill="#96B5D2" stroke="#477DB1" stroke-width="0.9"/>
<rect x="499" y="186.8" width="3.17" height="14.45" fill="#DCC59C" stroke="#C19952" stroke-width="0.9"/>
<rect x="503.07" y="196.21" width="3.17" height="5.04" fill="#C6E0B4" stroke="#9AC87A" stroke-width="0.9"/>
<rect x="509.17" y="199.84" width="3.17" height="1.41" fill="#B8D6A3" stroke="#81B75D" stroke-width="0.9"/>
<rect x="513.23" y="197.61" width="3.17" height="3.64" fill="#ADCDEA" stroke="#6FA7DA" stroke-width="0.9"/>
<rect x="517.3" y="194.06" width="3.17" height="7.18" fill="#FFE080" stroke="#FFC81F" stroke-width="0.9"/>
<rect x="521.37" y="188.12" width="3.17" height="13.12" fill="#A7BF9A" stroke="#648E4D" stroke-width="0.9"/>
<rect x="525.43" y="187.22" width="3.17" height="14.03" fill="#96B5D2" stroke="#477DB1" stroke-width="0.9"/>
<rect x="529.5" y="192.58" width="3.17" height="8.67" fill="#DCC59C" stroke="#C19952" stroke-width="0.9"/>
<rect x="533.57" y="197.12" width="3.17" height="4.13" fill="#C6E0B4" stroke="#9AC87A" stroke-width="0.9"/>
<path d="M297.25 190.97V195.92M295.54 190.97H298.96M295.54 195.92H298.96M301.32 191.8V195.1M299.61 191.8H303.02M299.61 195.1H303.02M305.38 192.21V194.69M303.68 192.21H307.09M303.68 194.69H307.09M309.45 190.97V195.92M307.74 190.97H311.16M307.74 195.92H311.16M313.52 190.97V195.92M311.81 190.97H315.22M311.81 195.92H315.22M317.58 188.91V197.99M315.88 188.91H319.29M315.88 197.99H319.29M321.65 190.56V196.34M319.94 190.56H323.36M319.94 196.34H323.36M327.75 194.85V197.33M326.04 194.85H329.46M326.04 197.33H329.46M331.82 197.16V197.99M330.11 197.16H333.52M330.11 197.99H333.52M335.88 199.31V200.13M334.18 199.31H337.59M334.18 200.13H337.59M339.95 190.07V191.72M338.24 190.07H341.66M338.24 191.72H341.66M344.02 173.57V188.42M342.31 173.57H345.72M342.31 188.42H345.72M348.08 165.07V180.74M346.38 165.07H349.79M346.38 180.74H349.79M352.15 198.98V199.8M350.44 198.98H353.86M350.44 199.8H353.86M358.25 196.01V200.96M356.54 196.01H359.96M356.54 200.96H359.96M362.32 196.75V198.4M360.61 196.75H364.02M360.61 198.4H364.02M366.38 190.81V191.63M364.68 190.81H368.09M364.68 191.63H368.09M370.45 173.07V178.85M368.74 173.07H372.16M368.74 178.85H372.16M374.52 167.46V176.54M372.81 167.46H376.22M372.81 176.54H376.22M378.58 175.79V184.04M376.88 175.79H380.29M376.88 184.04H380.29M382.65 199.31V200.13M380.94 199.31H384.36M380.94 200.13H384.36M388.75 197.49V198.32M387.04 197.49H390.46M387.04 198.32H390.46M392.82 195.84V196.67M391.11 195.84H394.52M391.11 196.67H394.52M396.88 190.97V195.1M395.18 190.97H398.59M395.18 195.1H398.59M400.95 185.94V187.59M399.24 185.94H402.66M399.24 187.59H402.66M405.02 171.17V183.55M403.31 171.17H406.72M403.31 183.55H406.72M409.08 188.66V190.31M407.38 188.66H410.79M407.38 190.31H410.79M413.15 197.16V197.99M411.44 197.16H414.86M411.44 197.99H414.86M419.25 191.47V196.42M417.54 191.47H420.96M417.54 196.42H420.96M423.32 196.25V197.08M421.61 196.25H425.02M421.61 197.08H425.02M427.38 180.66V185.61M425.68 180.66H429.09M425.68 185.61H429.09M431.45 177.77V188.5M429.74 177.77H433.16M429.74 188.5H433.16M435.52 169.19V187.34M433.81 169.19H437.22M433.81 187.34H437.22M439.58 187.76V189.41M437.88 187.76H441.29M437.88 189.41H441.29M443.65 197.16V197.99M441.94 197.16H445.36M441.94 197.99H445.36M449.75 195.35V196.17M448.04 195.35H451.46M448.04 196.17H451.46M453.82 198.07V198.89M452.11 198.07H455.52M452.11 198.89H455.52M457.88 186.85V188.5M456.18 186.85H459.59M456.18 188.5H459.59M461.95 183.3V186.6M460.24 183.3H463.66M460.24 186.6H463.66M466.02 175.38V184.46M464.31 175.38H467.72M464.31 184.46H467.72M470.08 178.1V186.35M468.38 178.1H471.79M468.38 186.35H471.79M474.15 197.16V197.99M472.44 197.16H475.86M472.44 197.99H475.86M480.25 198.56V199.39M478.54 198.56H481.96M478.54 199.39H481.96M484.32 195.84V197.49M482.61 195.84H486.02M482.61 197.49H486.02M488.38 193.12V194.77M486.68 193.12H490.09M486.68 194.77H490.09M492.45 177.28V184.7M490.74 177.28H494.16M490.74 184.7H494.16M496.52 180.66V185.61M494.81 180.66H498.22M494.81 185.61H498.22M500.58 183.88V188.83M498.88 183.88H502.29M498.88 188.83H502.29M504.65 194.11V197.41M502.94 194.11H506.36M502.94 197.41H506.36M510.75 198.98V199.8M509.04 198.98H512.46M509.04 199.8H512.46M514.82 196.34V197.99M513.11 196.34H516.52M513.11 197.99H516.52M518.88 191.14V196.09M517.18 191.14H520.59M517.18 196.09H520.59M522.95 186.44V188.91M521.24 186.44H524.66M521.24 188.91H524.66M527.02 183.05V190.48M525.31 183.05H528.72M525.31 190.48H528.72M531.08 191.72V192.54M529.38 191.72H532.79M529.38 192.54H532.79M535.15 195.02V198.32M533.44 195.02H536.86M533.44 198.32H536.86" fill="none" stroke="#6E6E6E" stroke-width="0.55"/>
<text x="300.8" y="186.59" text-anchor="middle" font-size="3.8" font-weight="bold" fill="#E8261C">*</text>
<text x="300.8" y="188.69" text-anchor="middle" font-size="3.8" font-weight="bold" fill="#E8261C">*</text>
<text x="305.2" y="186.59" text-anchor="middle" font-size="3.8" font-weight="bold" fill="#E8261C">*</text>
<text x="305.2" y="188.69" text-anchor="middle" font-size="3.8" font-weight="bold" fill="#E8261C">*</text>
<text x="317.4" y="183.74" text-anchor="middle" font-size="3.8" font-weight="bold" fill="#E8261C">*</text>
<text x="317.4" y="185.84" text-anchor="middle" font-size="3.8" font-weight="bold" fill="#E8261C">*</text>
<text x="317.4" y="187.94" text-anchor="middle" font-size="3.8" font-weight="bold" fill="#E8261C">*</text>
<text x="331.4" y="192.44" text-anchor="middle" font-size="3.8" font-weight="bold" fill="#1A1A1A">*</text>
<text x="331.4" y="194.54" text-anchor="middle" font-size="3.8" font-weight="bold" fill="#1A1A1A">*</text>
<text x="335.2" y="195.64" text-anchor="middle" font-size="3.8" font-weight="bold" fill="#1A1A1A">*</text>
<text x="335.2" y="197.74" text-anchor="middle" font-size="3.8" font-weight="bold" fill="#1A1A1A">*</text>
<text x="347.6" y="158.39" text-anchor="middle" font-size="3.8" font-weight="bold" fill="#1A1A1A">*</text>
<text x="347.6" y="160.49" text-anchor="middle" font-size="3.8" font-weight="bold" fill="#1A1A1A">*</text>
<text x="347.6" y="162.59" text-anchor="middle" font-size="3.8" font-weight="bold" fill="#1A1A1A">*</text>
<text x="358" y="193.64" text-anchor="middle" font-size="3.8" font-weight="bold" fill="#1A1A1A">*</text>
<text x="358" y="195.74" text-anchor="middle" font-size="3.8" font-weight="bold" fill="#1A1A1A">*</text>
<text x="362.1" y="192.64" text-anchor="middle" font-size="3.8" font-weight="bold" fill="#1A1A1A">*</text>
<text x="362.1" y="194.74" text-anchor="middle" font-size="3.8" font-weight="bold" fill="#1A1A1A">*</text>
<text x="366.2" y="183.59" text-anchor="middle" font-size="3.8" font-weight="bold" fill="#E8261C">*</text>
<text x="366.2" y="185.69" text-anchor="middle" font-size="3.8" font-weight="bold" fill="#E8261C">*</text>
<text x="366.2" y="187.79" text-anchor="middle" font-size="3.8" font-weight="bold" fill="#E8261C">*</text>
<text x="370.2" y="159.24" text-anchor="middle" font-size="3.8" font-weight="bold" fill="#E8261C">*</text>
<text x="370.2" y="161.34" text-anchor="middle" font-size="3.8" font-weight="bold" fill="#E8261C">*</text>
<text x="370.2" y="163.44" text-anchor="middle" font-size="3.8" font-weight="bold" fill="#E8261C">*</text>
<text x="370.2" y="168.69" text-anchor="middle" font-size="3.8" font-weight="bold" fill="#1A1A1A">*</text>
<text x="370.2" y="170.79" text-anchor="middle" font-size="3.8" font-weight="bold" fill="#1A1A1A">*</text>
<text x="370.2" y="172.89" text-anchor="middle" font-size="3.8" font-weight="bold" fill="#1A1A1A">*</text>
<text x="378.3" y="171.84" text-anchor="middle" font-size="3.8" font-weight="bold" fill="#1A1A1A">*</text>
<text x="378.3" y="173.94" text-anchor="middle" font-size="3.8" font-weight="bold" fill="#1A1A1A">*</text>
<text x="388.7" y="193.39" text-anchor="middle" font-size="3.8" font-weight="bold" fill="#1A1A1A">*</text>
<text x="388.7" y="195.49" text-anchor="middle" font-size="3.8" font-weight="bold" fill="#1A1A1A">*</text>
<text x="392.7" y="193.99" text-anchor="middle" font-size="3.8" font-weight="bold" fill="#1A1A1A">*</text>
<text x="396.8" y="183.74" text-anchor="middle" font-size="3.8" font-weight="bold" fill="#E8261C">*</text>
<text x="396.8" y="185.84" text-anchor="middle" font-size="3.8" font-weight="bold" fill="#E8261C">*</text>
<text x="396.8" y="187.94" text-anchor="middle" font-size="3.8" font-weight="bold" fill="#E8261C">*</text>
<text x="400.9" y="184.99" text-anchor="middle" font-size="3.8" font-weight="bold" fill="#1A1A1A">*</text>
<text x="408.8" y="182.79" text-anchor="middle" font-size="3.8" font-weight="bold" fill="#E8261C">*</text>
<text x="408.8" y="184.89" text-anchor="middle" font-size="3.8" font-weight="bold" fill="#E8261C">*</text>
<text x="408.8" y="186.99" text-anchor="middle" font-size="3.8" font-weight="bold" fill="#E8261C">*</text>
<text x="422.6" y="192.84" text-anchor="middle" font-size="3.8" font-weight="bold" fill="#1A1A1A">*</text>
<text x="422.6" y="194.94" text-anchor="middle" font-size="3.8" font-weight="bold" fill="#1A1A1A">*</text>
<text x="427.1" y="165.59" text-anchor="middle" font-size="3.8" font-weight="bold" fill="#E8261C">*</text>
<text x="427.1" y="167.69" text-anchor="middle" font-size="3.8" font-weight="bold" fill="#E8261C">*</text>
<text x="427.1" y="169.79" text-anchor="middle" font-size="3.8" font-weight="bold" fill="#E8261C">*</text>
<text x="427.1" y="174.14" text-anchor="middle" font-size="3.8" font-weight="bold" fill="#1A1A1A">*</text>
<text x="427.1" y="176.24" text-anchor="middle" font-size="3.8" font-weight="bold" fill="#1A1A1A">*</text>
<text x="427.1" y="178.34" text-anchor="middle" font-size="3.8" font-weight="bold" fill="#1A1A1A">*</text>
<text x="431.1" y="169.19" text-anchor="middle" font-size="3.8" font-weight="bold" fill="#E8261C">*</text>
<text x="431.1" y="174.04" text-anchor="middle" font-size="3.8" font-weight="bold" fill="#1A1A1A">*</text>
<text x="431.1" y="176.14" text-anchor="middle" font-size="3.8" font-weight="bold" fill="#1A1A1A">*</text>
<text x="440.1" y="181.34" text-anchor="middle" font-size="3.8" font-weight="bold" fill="#E8261C">*</text>
<text x="440.1" y="183.44" text-anchor="middle" font-size="3.8" font-weight="bold" fill="#E8261C">*</text>
<text x="440.1" y="185.54" text-anchor="middle" font-size="3.8" font-weight="bold" fill="#E8261C">*</text>
<text x="454" y="191.19" text-anchor="middle" font-size="3.8" font-weight="bold" fill="#1A1A1A">*</text>
<text x="454" y="193.29" text-anchor="middle" font-size="3.8" font-weight="bold" fill="#1A1A1A">*</text>
<text x="454" y="195.39" text-anchor="middle" font-size="3.8" font-weight="bold" fill="#1A1A1A">*</text>
<text x="457.5" y="173.54" text-anchor="middle" font-size="3.8" font-weight="bold" fill="#E8261C">*</text>
<text x="457.5" y="175.64" text-anchor="middle" font-size="3.8" font-weight="bold" fill="#E8261C">*</text>
<text x="457.5" y="177.74" text-anchor="middle" font-size="3.8" font-weight="bold" fill="#E8261C">*</text>
<text x="457.5" y="182.59" text-anchor="middle" font-size="3.8" font-weight="bold" fill="#1A1A1A">*</text>
<text x="457.5" y="184.69" text-anchor="middle" font-size="3.8" font-weight="bold" fill="#1A1A1A">*</text>
<text x="461.7" y="179.74" text-anchor="middle" font-size="3.8" font-weight="bold" fill="#1A1A1A">*</text>
<text x="461.7" y="181.84" text-anchor="middle" font-size="3.8" font-weight="bold" fill="#1A1A1A">*</text>
<text x="469.8" y="169.19" text-anchor="middle" font-size="3.8" font-weight="bold" fill="#E8261C">*</text>
<text x="469.8" y="173.34" text-anchor="middle" font-size="3.8" font-weight="bold" fill="#1A1A1A">*</text>
<text x="469.8" y="175.44" text-anchor="middle" font-size="3.8" font-weight="bold" fill="#1A1A1A">*</text>
<text x="480.3" y="187.69" text-anchor="middle" font-size="3.8" font-weight="bold" fill="#E8261C">*</text>
<text x="480.3" y="192.34" text-anchor="middle" font-size="3.8" font-weight="bold" fill="#1A1A1A">*</text>
<text x="480.3" y="194.44" text-anchor="middle" font-size="3.8" font-weight="bold" fill="#1A1A1A">*</text>
<text x="480.3" y="196.54" text-anchor="middle" font-size="3.8" font-weight="bold" fill="#1A1A1A">*</text>
<text x="484.4" y="192.94" text-anchor="middle" font-size="3.8" font-weight="bold" fill="#1A1A1A">*</text>
<text x="484.4" y="195.04" text-anchor="middle" font-size="3.8" font-weight="bold" fill="#1A1A1A">*</text>
<text x="488" y="187.09" text-anchor="middle" font-size="3.8" font-weight="bold" fill="#E8261C">*</text>
<text x="488" y="189.19" text-anchor="middle" font-size="3.8" font-weight="bold" fill="#E8261C">*</text>
<text x="492.5" y="165.54" text-anchor="middle" font-size="3.8" font-weight="bold" fill="#E8261C">*</text>
<text x="492.5" y="167.64" text-anchor="middle" font-size="3.8" font-weight="bold" fill="#E8261C">*</text>
<text x="492.5" y="171.79" text-anchor="middle" font-size="3.8" font-weight="bold" fill="#1A1A1A">*</text>
<text x="492.5" y="173.89" text-anchor="middle" font-size="3.8" font-weight="bold" fill="#1A1A1A">*</text>
<text x="492.5" y="175.99" text-anchor="middle" font-size="3.8" font-weight="bold" fill="#1A1A1A">*</text>
<text x="500.6" y="179.44" text-anchor="middle" font-size="3.8" font-weight="bold" fill="#E8261C">*</text>
<text x="500.6" y="181.54" text-anchor="middle" font-size="3.8" font-weight="bold" fill="#E8261C">*</text>
<text x="510.8" y="187.69" text-anchor="middle" font-size="3.8" font-weight="bold" fill="#E8261C">*</text>
<text x="510.8" y="193.24" text-anchor="middle" font-size="3.8" font-weight="bold" fill="#1A1A1A">*</text>
<text x="510.8" y="195.34" text-anchor="middle" font-size="3.8" font-weight="bold" fill="#1A1A1A">*</text>
<text x="510.8" y="197.44" text-anchor="middle" font-size="3.8" font-weight="bold" fill="#1A1A1A">*</text>
<text x="514.6" y="190.54" text-anchor="middle" font-size="3.8" font-weight="bold" fill="#1A1A1A">*</text>
<text x="514.6" y="192.64" text-anchor="middle" font-size="3.8" font-weight="bold" fill="#1A1A1A">*</text>
<text x="518.9" y="184.39" text-anchor="middle" font-size="3.8" font-weight="bold" fill="#E8261C">*</text>
<text x="518.9" y="186.49" text-anchor="middle" font-size="3.8" font-weight="bold" fill="#E8261C">*</text>
<text x="518.9" y="188.59" text-anchor="middle" font-size="3.8" font-weight="bold" fill="#E8261C">*</text>
<text x="531.2" y="183.74" text-anchor="middle" font-size="3.8" font-weight="bold" fill="#E8261C">*</text>
<text x="531.2" y="185.84" text-anchor="middle" font-size="3.8" font-weight="bold" fill="#E8261C">*</text>
<text x="531.2" y="187.94" text-anchor="middle" font-size="3.8" font-weight="bold" fill="#E8261C">*</text>
<text class="b" x="300.6" y="211.7" text-anchor="start" font-size="6.5" fill="#262626">S6C<tspan class="g" font-size="6.8" dx="-0.1" baseline-shift="-0.8">♀</tspan></text>
<text class="b" x="330" y="211.7" text-anchor="start" font-size="6.5" fill="#262626">S12B<tspan class="g" font-size="6.4" dx="1.3" baseline-shift="0.5">♂</tspan></text>
<text class="b" x="370.15" y="211.7" text-anchor="middle" font-size="6.5" fill="#262626">4K/1/1</text>
<text class="b" x="400.65" y="211.7" text-anchor="middle" font-size="6.5" fill="#262626">4K/1/2</text>
<text class="b" x="431.15" y="211.7" text-anchor="middle" font-size="6.5" fill="#262626">4K/2/1</text>
<text class="b" x="461.65" y="211.7" text-anchor="middle" font-size="6.5" fill="#262626">4K/2/2</text>
<text class="b" x="492.15" y="211.7" text-anchor="middle" font-size="6.5" fill="#262626">4K/3/1</text>
<text class="b" x="522.65" y="211.7" text-anchor="middle" font-size="6.5" fill="#262626">4K/3/2</text>
<text class="t" x="336.4" y="136.6" font-size="8" fill="#1F1F1F">S6C<tspan class="g" font-size="9.4" dx="1.2" baseline-shift="-1.6">♀</tspan><tspan dx="0.8">x S12B</tspan><tspan class="g" font-size="8.4" dx="0.7" baseline-shift="-0.8">♂</tspan></text>
<text class="t" x="408.5" y="136.6" font-size="8" fill="#1F1F1F">C2 6xF<tspan dy="1.6" font-size="5.4">2</tspan></text>
<text class="t" x="444" y="136.6" font-size="8" fill="#1F1F1F">Seedling root</text>
<rect x="318.15" y="222.9" width="3" height="3" fill="#B8D6A3" stroke="#81B75D" stroke-width="0.7"/>
<text class="t" x="322.8" y="226.45" font-size="6.45" font-style="italic" fill="#262626">CKX1</text>
<rect x="344.45" y="222.9" width="3" height="3" fill="#ADCDEA" stroke="#6FA7DA" stroke-width="0.7"/>
<text class="t" x="348.5" y="226.45" font-size="6.45" font-style="italic" fill="#262626">CKX3</text>
<rect x="370.25" y="222.9" width="3" height="3" fill="#FFE080" stroke="#FFC81F" stroke-width="0.7"/>
<text class="t" x="374.8" y="226.45" font-size="6.45" font-style="italic" fill="#262626">CKX5</text>
<rect x="396.25" y="222.9" width="3" height="3" fill="#A7BF9A" stroke="#648E4D" stroke-width="0.7"/>
<text class="t" x="400.6" y="226.45" font-size="6.45" font-style="italic" fill="#262626">CKX8</text>
<rect x="422.45" y="222.9" width="3" height="3" fill="#96B5D2" stroke="#477DB1" stroke-width="0.7"/>
<text class="t" x="426.5" y="226.45" font-size="6.45" font-style="italic" fill="#262626">CKX10</text>
<rect x="451.15" y="222.9" width="3" height="3" fill="#DCC59C" stroke="#C19952" stroke-width="0.7"/>
<text class="t" x="455.7" y="226.45" font-size="6.45" font-style="italic" fill="#262626">CKX11</text>
<rect x="480.85" y="222.9" width="3" height="3" fill="#C6E0B4" stroke="#9AC87A" stroke-width="0.7"/>
<text class="t" x="484.7" y="226.45" font-size="6.45" font-style="italic" fill="#262626">NAC2-5A</text>
</g>
<g>
<rect x="276.2" y="242.5" width="266.9" height="125.3" fill="#FFFFFF" stroke="#E0E0E0" stroke-width="1"/>
<line x1="293.6" y1="312.9" x2="538.1" y2="312.9" stroke="#DCDCDC" stroke-width="0.7"/>
<line x1="293.6" y1="290.23" x2="538.1" y2="290.23" stroke="#DCDCDC" stroke-width="0.7"/>
<line x1="293.6" y1="267.56" x2="538.1" y2="267.56" stroke="#DCDCDC" stroke-width="0.7"/>
<text class="t" x="287.2" y="315.55" text-anchor="end" font-size="7.8" fill="#262626">0</text>
<text class="t" x="287.2" y="292.88" text-anchor="end" font-size="7.8" fill="#262626">1</text>
<text class="t" x="287.2" y="270.21" text-anchor="end" font-size="7.8" fill="#262626">2</text>
<rect x="295" y="290.23" width="3.06" height="22.67" fill="#4472C4"/>
<rect x="298.21" y="290.23" width="3.06" height="22.67" fill="#ED7D31"/>
<rect x="301.43" y="290.23" width="3.06" height="22.67" fill="#FFC000"/>
<rect x="304.64" y="290.23" width="3.06" height="22.67" fill="#4A9FE0"/>
<rect x="307.85" y="290.23" width="3.06" height="22.67" fill="#70AD47"/>
<rect x="311.06" y="290.23" width="3.06" height="22.67" fill="#264E9A"/>
<rect x="314.27" y="290.23" width="3.06" height="22.67" fill="#B5461B"/>
<rect x="317.49" y="290.23" width="3.06" height="22.67" fill="#98701A"/>
<rect x="320.7" y="290.23" width="3.06" height="22.67" fill="#5F6165"/>
<rect x="325.52" y="289.1" width="3.06" height="23.8" fill="#4472C4"/>
<rect x="328.73" y="284.56" width="3.06" height="28.34" fill="#ED7D31"/>
<rect x="331.94" y="280.26" width="3.06" height="32.64" fill="#FFC000"/>
<rect x="335.15" y="282.75" width="3.06" height="30.15" fill="#4A9FE0"/>
<rect x="338.36" y="289.55" width="3.06" height="23.35" fill="#70AD47"/>
<rect x="341.57" y="291.82" width="3.06" height="21.08" fill="#264E9A"/>
<rect x="344.79" y="293.63" width="3.06" height="19.27" fill="#B5461B"/>
<rect x="348" y="300.88" width="3.06" height="12.02" fill="#98701A"/>
<rect x="351.21" y="291.82" width="3.06" height="21.08" fill="#5F6165"/>
<rect x="356.03" y="290.68" width="3.06" height="22.22" fill="#4472C4"/>
<rect x="359.24" y="285.24" width="3.06" height="27.66" fill="#ED7D31"/>
<rect x="362.45" y="280.48" width="3.06" height="32.42" fill="#FFC000"/>
<rect x="365.66" y="281.62" width="3.06" height="31.28" fill="#4A9FE0"/>
<rect x="368.88" y="289.1" width="3.06" height="23.8" fill="#70AD47"/>
<rect x="372.09" y="291.82" width="3.06" height="21.08" fill="#264E9A"/>
<rect x="375.3" y="283.66" width="3.06" height="29.24" fill="#B5461B"/>
<rect x="378.51" y="290.91" width="3.06" height="21.99" fill="#98701A"/>
<rect x="381.72" y="291.82" width="3.06" height="21.08" fill="#5F6165"/>
<rect x="386.54" y="290" width="3.06" height="22.9" fill="#4472C4"/>
<rect x="389.75" y="289.1" width="3.06" height="23.8" fill="#ED7D31"/>
<rect x="392.96" y="288.87" width="3.06" height="24.03" fill="#FFC000"/>
<rect x="396.18" y="288.19" width="3.06" height="24.71" fill="#4A9FE0"/>
<rect x="399.39" y="290" width="3.06" height="22.9" fill="#70AD47"/>
<rect x="402.6" y="290" width="3.06" height="22.9" fill="#264E9A"/>
<rect x="405.81" y="281.16" width="3.06" height="31.74" fill="#B5461B"/>
<rect x="409.02" y="290.68" width="3.06" height="22.22" fill="#98701A"/>
<rect x="412.24" y="291.82" width="3.06" height="21.08" fill="#5F6165"/>
<rect x="417.05" y="290" width="3.06" height="22.9" fill="#4472C4"/>
<rect x="420.26" y="297.26" width="3.06" height="15.64" fill="#ED7D31"/>
<rect x="423.48" y="299.98" width="3.06" height="12.92" fill="#FFC000"/>
<rect x="426.69" y="299.07" width="3.06" height="13.83" fill="#4A9FE0"/>
<rect x="429.9" y="289.1" width="3.06" height="23.8" fill="#70AD47"/>
<rect x="433.11" y="290" width="3.06" height="22.9" fill="#264E9A"/>
<rect x="436.32" y="281.62" width="3.06" height="31.28" fill="#B5461B"/>
<rect x="439.54" y="290" width="3.06" height="22.9" fill="#98701A"/>
<rect x="442.75" y="290.91" width="3.06" height="21.99" fill="#5F6165"/>
<rect x="447.57" y="289.1" width="3.06" height="23.8" fill="#4472C4"/>
<rect x="450.78" y="291.82" width="3.06" height="21.08" fill="#ED7D31"/>
<rect x="453.99" y="290.46" width="3.06" height="22.44" fill="#FFC000"/>
<rect x="457.2" y="290.68" width="3.06" height="22.22" fill="#4A9FE0"/>
<rect x="460.41" y="287.96" width="3.06" height="24.94" fill="#70AD47"/>
<rect x="463.62" y="290.68" width="3.06" height="22.22" fill="#264E9A"/>
<rect x="466.84" y="279.35" width="3.06" height="33.55" fill="#B5461B"/>
<rect x="470.05" y="286.38" width="3.06" height="26.52" fill="#98701A"/>
<rect x="473.26" y="287.74" width="3.06" height="25.16" fill="#5F6165"/>
<rect x="478.08" y="289.1" width="3.06" height="23.8" fill="#4472C4"/>
<rect x="481.29" y="293.18" width="3.06" height="19.72" fill="#ED7D31"/>
<rect x="484.5" y="293.18" width="3.06" height="19.72" fill="#FFC000"/>
<rect x="487.71" y="293.18" width="3.06" height="19.72" fill="#4A9FE0"/>
<rect x="490.93" y="290" width="3.06" height="22.9" fill="#70AD47"/>
<rect x="494.14" y="290.91" width="3.06" height="21.99" fill="#264E9A"/>
<rect x="497.35" y="285.7" width="3.06" height="27.2" fill="#B5461B"/>
<rect x="500.56" y="301.34" width="3.06" height="11.56" fill="#98701A"/>
<rect x="503.77" y="302.25" width="3.06" height="10.65" fill="#5F6165"/>
<rect x="508.59" y="289.1" width="3.06" height="23.8" fill="#4472C4"/>
<rect x="511.8" y="293.18" width="3.06" height="19.72" fill="#ED7D31"/>
<rect x="515.01" y="297.26" width="3.06" height="15.64" fill="#FFC000"/>
<rect x="518.23" y="297.71" width="3.06" height="15.19" fill="#4A9FE0"/>
<rect x="521.44" y="291.36" width="3.06" height="21.54" fill="#70AD47"/>
<rect x="524.65" y="290.68" width="3.06" height="22.22" fill="#264E9A"/>
<rect x="527.86" y="284.79" width="3.06" height="28.11" fill="#B5461B"/>
<rect x="531.07" y="270.28" width="3.06" height="42.62" fill="#98701A"/>
<rect x="534.29" y="273" width="3.06" height="39.9" fill="#5F6165"/>
<path d="M296.61 289.1V291.36M295.26 289.1H297.96M295.26 291.36H297.96M299.82 285.7V294.76M298.47 285.7H301.17M298.47 294.76H301.17M303.03 287.96V292.5M301.68 287.96H304.38M301.68 292.5H304.38M306.24 288.42V292.04M304.9 288.42H307.59M304.9 292.04H307.59M309.46 288.42V292.04M308.11 288.42H310.81M308.11 292.04H310.81M312.67 289.1V291.36M311.32 289.1H314.02M311.32 291.36H314.02M315.88 281.84V298.62M314.53 281.84H317.23M314.53 298.62H317.23M319.09 280.03V300.43M317.74 280.03H320.44M317.74 300.43H320.44M322.3 284.56V295.9M320.95 284.56H323.65M320.95 295.9H323.65M327.12 286.83V291.36M325.77 286.83H328.47M325.77 291.36H328.47M330.33 281.16V287.96M328.98 281.16H331.68M328.98 287.96H331.68M333.55 275.27V285.24M332.2 275.27H334.89M332.2 285.24H334.89M336.76 280.03V285.47M335.41 280.03H338.11M335.41 285.47H338.11M343.18 290.68V292.95M341.83 290.68H344.53M341.83 292.95H344.53M346.39 284.56V302.7M345.04 284.56H347.74M345.04 302.7H347.74M349.6 288.87V312.9M348.26 288.87H350.95M348.26 312.9H350.95M352.82 289.55V294.08M351.47 289.55H354.17M351.47 294.08H354.17" fill="none" stroke="#404040" stroke-width="0.6"/>
<text class="b" x="300.6" y="323.1" text-anchor="start" font-size="6.5" fill="#262626">S6C<tspan class="g" font-size="6.8" dx="-0.1" baseline-shift="-0.8">♀</tspan></text>
<text class="b" x="330" y="323.1" text-anchor="start" font-size="6.5" fill="#262626">S12B<tspan class="g" font-size="6.4" dx="1.3" baseline-shift="0.5">♂</tspan></text>
<text class="b" x="370.48" y="323.1" text-anchor="middle" font-size="6.5" fill="#262626">4K/1/1</text>
<text class="b" x="400.99" y="323.1" text-anchor="middle" font-size="6.5" fill="#262626">4K/1/2</text>
<text class="b" x="431.51" y="323.1" text-anchor="middle" font-size="6.5" fill="#262626">4K/2/1</text>
<text class="b" x="462.02" y="323.1" text-anchor="middle" font-size="6.5" fill="#262626">4K/2/2</text>
<text class="b" x="492.53" y="323.1" text-anchor="middle" font-size="6.5" fill="#262626">4K/3/1</text>
<text class="b" x="523.04" y="323.1" text-anchor="middle" font-size="6.5" fill="#262626">4K/3/2</text>
<text class="t" x="331.5" y="256.2" font-size="7.6" fill="#1F1F1F">S6C<tspan class="g" font-size="9.4" dx="1.2" baseline-shift="-1.6">♀</tspan><tspan dx="0.8">x S12B</tspan><tspan class="g" font-size="8.4" dx="0.7" baseline-shift="-0.8">♂</tspan></text>
<text class="t" x="400.7" y="256.2" font-size="7.6" fill="#1F1F1F">C2</text>
<text class="t" x="414.4" y="256.2" font-size="7.6" fill="#1F1F1F">6xF2</text>
<text class="t" x="460" y="256.2" font-size="7.6" fill="#1F1F1F">Phenotype</text>
<rect x="319.5" y="334.1" width="3" height="3" fill="#4472C4"/>
<text class="l" x="324.2" y="337.5" font-size="6.25" fill="#262626">Plant height</text>
<rect x="383.2" y="334.1" width="3" height="3" fill="#ED7D31"/>
<text class="l" x="387.5" y="337.5" font-size="6.25" fill="#262626">Spike no.</text>
<rect x="446.2" y="334.1" width="3" height="3" fill="#FFC000"/>
<text class="l" x="451.3" y="337.5" font-size="6.25" fill="#262626">Grain no.</text>
<rect x="319.5" y="345.4" width="3" height="3" fill="#4A9FE0"/>
<text class="l" x="324.2" y="348.8" font-size="6.25" fill="#262626">Grain yield</text>
<rect x="383.2" y="345.4" width="3" height="3" fill="#70AD47"/>
<text class="l" x="387.5" y="348.8" font-size="6.25" fill="#262626">Spike length</text>
<rect x="446.2" y="345.4" width="3" height="3" fill="#264E9A"/>
<text class="l" x="451.3" y="348.8" font-size="6.25" fill="#262626">TGW</text>
<rect x="319.5" y="356.8" width="3" height="3" fill="#B5461B"/>
<text class="l" x="324.2" y="360.2" font-size="6.25" fill="#262626">Root weight</text>
<rect x="383.2" y="356.8" width="3" height="3" fill="#98701A"/>
<text class="l" x="387.5" y="360.2" font-size="6.25" fill="#262626">CKX act. Root</text>
<rect x="446.2" y="356.8" width="3" height="3" fill="#5F6165"/>
<text class="l" x="451.3" y="360.2" font-size="6.25" fill="#262626">CKX act. Spike 7DAP</text>
</g>
<text class="sans" style="font-family:'Liberation Sans', 'DejaVu Sans', sans-serif" x="139.65" y="383.55" text-anchor="middle" font-size="14.5" fill="#1A1A1A">(A)</text>
<text class="sans" style="font-family:'Liberation Sans', 'DejaVu Sans', sans-serif" x="414" y="383.55" text-anchor="middle" font-size="14.5" fill="#1A1A1A">(B)</text>
</svg></body></html>
